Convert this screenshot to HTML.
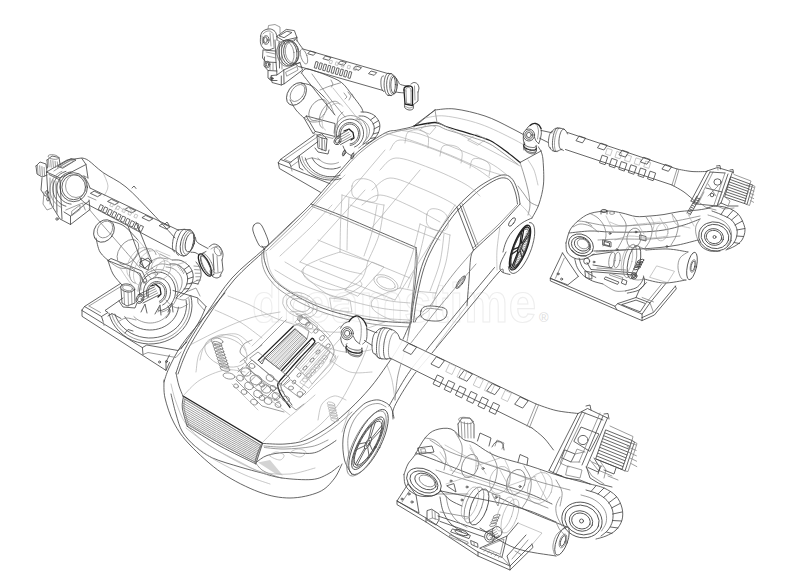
<!DOCTYPE html>
<html><head><meta charset="utf-8"><title>Robots assembling car - wireframe</title>
<style>
html,body{margin:0;padding:0;background:#fff;}
body{width:800px;height:586px;overflow:hidden;font-family:"Liberation Sans",sans-serif;}
svg{display:block}
path,ellipse{fill:none;stroke-linecap:round;stroke-linejoin:round}
.d{stroke:#444;stroke-width:0.82}
.m{stroke:#7c7c7c;stroke-width:0.75}
.l{stroke:#aaa;stroke-width:0.65}
.k{stroke:#222;stroke-width:1.3}
.f{fill:#fff;stroke:none;fill-opacity:0.88}
.g{fill:#d4d4d4;stroke:none}
.w{fill:#fff;stroke:#3a3a3a;stroke-width:0.9}
.wm{fill:#fff;stroke:#777;stroke-width:0.8}
.wl{fill:#fff;stroke:#a8a8a8;stroke-width:0.7}
.wmk{font-family:"Liberation Sans",sans-serif;font-weight:bold;font-size:56px;fill:none;stroke:#eeeeee;stroke-width:1.2;letter-spacing:1px}
.wmr{font-family:"Liberation Sans",sans-serif;font-size:13px;fill:#ddd}
</style></head><body>
<svg width="800" height="586" viewBox="0 0 800 586">
<rect width="800" height="586" fill="#fff" stroke="none"/>
<text class="wmk" x="252" y="321.5" textLength="285" lengthAdjust="spacingAndGlyphs">dreamstime</text>
<text class="wmr" x="539" y="322">®</text>
<path class="d" d="M435.0 110.0 C433.3 111.3 428.5 115.3 425.0 118.0 C421.5 120.7 418.5 124.0 414.0 126.0 C409.5 128.0 402.8 128.8 398.0 130.0 C393.2 131.2 391.3 129.7 385.0 133.0 C378.7 136.3 367.5 143.7 360.0 150.0 C352.5 156.3 348.2 162.0 340.0 171.0 C331.8 180.0 319.7 194.8 311.0 204.0 C302.3 213.2 295.8 218.5 288.0 226.0 C280.2 233.5 273.3 240.3 264.0 249.0 C254.7 257.7 241.5 267.3 232.0 278.0 C222.5 288.7 214.0 302.7 207.0 313.0 C200.0 323.3 194.2 332.8 190.0 340.0 C185.8 347.2 184.3 350.5 182.0 356.0 C179.7 361.5 177.0 370.2 176.0 373.0"/>
<path class="d" d="M264.0 251.5 C259.0 256.2 243.2 269.4 234.0 280.0 C224.8 290.6 216.0 304.7 209.0 315.0 C202.0 325.3 196.2 334.8 192.0 342.0 C187.8 349.2 186.3 352.7 184.0 358.0 C181.7 363.3 179.0 371.3 178.0 374.0"/>
<path class="m" d="M414.0 128.0 C409.3 129.2 394.8 131.0 386.0 135.0 C377.2 139.0 368.5 145.7 361.0 152.0 C353.5 158.3 349.2 164.0 341.0 173.0 C332.8 182.0 324.5 193.0 312.0 206.0 C299.5 219.0 273.7 243.5 266.0 251.0"/>
<path class="d" d="M225.0 293.0 C220.8 297.8 207.3 313.2 200.0 322.0 C192.7 330.8 186.2 338.3 181.0 346.0 C175.8 353.7 171.8 362.0 169.0 368.0 C166.2 374.0 164.8 379.7 164.0 382.0"/>
<path class="d" d="M164.0 380.0 C164.2 383.0 163.3 390.8 165.0 398.0 C166.7 405.2 169.8 415.2 174.0 423.0 C178.2 430.8 182.0 436.7 190.0 445.0 C198.0 453.3 210.5 465.2 222.0 473.0 C233.5 480.8 247.7 487.8 259.0 492.0 C270.3 496.2 280.0 498.0 290.0 498.0 C300.0 498.0 311.7 495.2 319.0 492.0 C326.3 488.8 330.2 483.7 334.0 479.0 C337.8 474.3 340.7 466.5 342.0 464.0"/>
<path class="d" d="M171.0 394.0 C171.8 397.3 174.1 407.7 176.0 414.0 C177.9 420.3 179.2 426.5 182.5 432.0 C185.8 437.5 191.0 442.7 196.0 447.0 C201.0 451.3 205.3 454.7 212.6 458.0 C219.9 461.3 231.8 464.5 240.0 467.0 C248.2 469.5 255.0 471.2 262.0 473.0 C269.0 474.8 273.7 476.9 282.0 478.0 C290.3 479.1 304.3 480.2 312.0 479.5 C319.7 478.8 323.5 476.2 328.0 474.0 C332.5 471.8 337.2 467.3 339.0 466.0"/>
<path class="g" d="M258.0 462.5 L270.0 460.0 L283.0 475.5 L276.0 474.0 Z"/>
<path class="l" d="M171.0 384.0 C171.8 387.0 173.5 395.3 176.0 402.0 C178.5 408.7 181.0 417.2 186.0 424.0 C191.0 430.8 197.0 436.5 206.0 443.0 C215.0 449.5 229.3 457.5 240.0 463.0 C250.7 468.5 265.0 473.8 270.0 476.0"/>
<path class="d" d="M176.0 373.0 C176.5 375.2 177.8 382.2 179.0 386.0 C180.2 389.8 182.3 394.3 183.0 396.0"/>
<path class="k" d="M183.0 396.0 L262.5 443.4"/>
<path class="d" d="M262.5 443.4 C266.2 443.5 277.8 444.6 285.0 444.0 C292.2 443.4 298.5 443.0 306.0 440.0 C313.5 437.0 322.7 431.2 330.0 426.0 C337.3 420.8 343.3 415.3 350.0 409.0 C356.7 402.7 363.8 395.3 370.0 388.0 C376.2 380.7 382.0 372.2 387.0 365.0 C392.0 357.8 396.5 351.2 400.0 345.0 C403.5 338.8 406.2 331.8 408.0 328.0 C409.8 324.2 410.5 323.0 411.0 322.0"/>
<path class="m" d="M264.0 446.0 C267.7 446.2 278.7 447.5 286.0 447.0 C293.3 446.5 300.3 446.0 308.0 443.0 C315.7 440.0 324.7 434.2 332.0 429.0 C339.3 423.8 348.7 414.8 352.0 412.0"/>
<path class="d" d="M264.0 249.0 C264.0 250.5 263.5 254.8 264.0 258.0 C264.5 261.2 265.7 264.8 267.0 268.0 C268.3 271.2 269.7 274.0 272.0 277.0 C274.3 280.0 276.0 282.3 281.0 286.0 C286.0 289.7 294.7 295.2 302.0 299.0 C309.3 302.8 317.0 306.2 325.0 309.0 C333.0 311.8 340.8 314.0 350.0 316.0 C359.2 318.0 369.8 319.8 380.0 321.0 C390.2 322.2 405.8 322.7 411.0 323.0"/>
<path class="m" d="M262.0 252.0 C262.0 253.7 261.5 258.7 262.0 262.0 C262.5 265.3 263.5 268.8 265.0 272.0 C266.5 275.2 268.5 278.0 271.0 281.0 C273.5 284.0 275.0 286.3 280.0 290.0 C285.0 293.7 293.5 299.2 301.0 303.0 C308.5 306.8 316.8 310.2 325.0 313.0 C333.2 315.8 340.8 318.0 350.0 320.0 C359.2 322.0 370.0 323.8 380.0 325.0 C390.0 326.2 405.0 326.7 410.0 327.0"/>
<path class="d" d="M311.0 204.0 C315.8 205.8 328.5 210.3 340.0 215.0 C351.5 219.7 367.3 226.6 380.0 232.0 C392.7 237.4 410.0 244.9 416.0 247.5"/>
<path class="m" d="M312.0 206.5 C316.7 208.3 328.7 212.8 340.0 217.5 C351.3 222.2 367.7 229.2 380.0 234.5 C392.3 239.8 408.3 246.6 414.0 249.0"/>
<path class="d" d="M416.0 247.5 C416.2 249.9 417.2 255.8 417.0 262.0 C416.8 268.2 415.8 277.8 415.0 285.0 C414.2 292.2 412.7 298.8 412.0 305.0 C411.3 311.2 411.2 319.2 411.0 322.0"/>
<path class="m" d="M311.0 204.0 C307.5 207.5 297.2 218.0 290.0 225.0 C282.8 232.0 272.3 241.8 268.0 246.0 C263.7 250.2 264.7 249.3 264.0 250.0"/>
<path class="l" d="M266.0 252.0 C266.7 255.0 267.7 264.7 270.0 270.0 C272.3 275.3 274.7 279.5 280.0 284.0 C285.3 288.5 293.7 293.0 302.0 297.0 C310.3 301.0 318.7 304.7 330.0 308.0 C341.3 311.3 356.8 315.0 370.0 317.0 C383.2 319.0 402.5 319.5 409.0 320.0"/>
<path class="d" d="M411.0 322.0 C411.5 318.3 412.5 308.3 414.0 300.0 C415.5 291.7 417.8 279.8 420.0 272.0 C422.2 264.2 424.3 259.0 427.0 253.0 C429.7 247.0 432.8 241.3 436.0 236.0 C439.2 230.7 442.7 225.7 446.0 221.0 C449.3 216.3 452.3 212.2 456.0 208.0 C459.7 203.8 464.0 199.7 468.0 196.0 C472.0 192.3 475.3 189.2 480.0 186.0 C484.7 182.8 491.7 178.8 496.0 177.0 C500.3 175.2 503.2 174.5 506.0 175.0 C508.8 175.5 511.0 177.2 513.0 180.0 C515.0 182.8 516.8 188.0 518.0 192.0 C519.2 196.0 519.7 202.0 520.0 204.0"/>
<path class="d" d="M413.5 322.0 C414.0 318.3 415.0 308.2 416.5 300.0 C418.0 291.8 420.3 280.7 422.5 273.0 C424.7 265.3 426.8 259.9 429.5 254.0 C432.2 248.1 435.4 242.7 438.5 237.5 C441.6 232.3 444.8 227.6 448.0 223.0 C451.2 218.4 454.3 214.1 458.0 210.0 C461.7 205.9 466.1 202.1 470.0 198.5 C473.9 194.9 477.1 191.7 481.5 188.5 C485.9 185.3 492.6 181.2 496.5 179.5 C500.4 177.8 502.6 177.6 505.0 178.0 C507.4 178.4 509.2 179.5 511.0 182.0 C512.8 184.5 514.4 189.3 515.5 193.0 C516.6 196.7 517.2 202.2 517.5 204.0"/>
<path class="d" d="M520.0 204.0 C518.3 205.8 513.3 211.3 510.0 215.0 C506.7 218.7 503.8 222.2 500.0 226.0 C496.2 229.8 491.3 234.0 487.0 238.0 C482.7 242.0 476.2 248.0 474.0 250.0"/>
<path class="m" d="M517.0 205.0 C513.8 208.3 505.3 217.8 498.0 225.0 C490.7 232.2 477.2 244.2 473.0 248.0"/>
<path class="d" d="M457.0 207.5 L473.5 250.0"/>
<path class="d" d="M460.0 205.0 L476.0 247.0"/>
<path class="m" d="M462.0 203.5 L478.0 245.0"/>
<path class="m" d="M474.0 250.0 C470.8 253.7 460.7 265.0 455.0 272.0 C449.3 279.0 444.2 286.3 440.0 292.0 C435.8 297.7 431.7 303.7 430.0 306.0"/>
<path class="d" d="M473.5 250.0 C473.0 251.3 471.4 253.0 470.7 258.0 C469.9 263.0 469.6 272.1 469.0 280.0 C468.4 287.9 467.3 301.2 467.0 305.5"/>
<path class="l" d="M467.0 305.5 C464.5 308.8 457.2 318.1 452.0 325.0 C446.8 331.9 438.7 343.3 436.0 347.0"/>
<path class="m" d="M416.0 247.5 C415.7 252.9 415.0 267.6 414.0 280.0 C413.0 292.4 411.0 312.8 410.0 322.0 C409.0 331.2 408.3 332.8 408.0 335.0"/>
<path class="d" d="M435.0 110.0 C438.3 109.8 446.7 108.0 455.0 109.0 C463.3 110.0 475.8 112.9 485.0 116.0 C494.2 119.1 502.2 123.5 510.0 127.5 C517.8 131.5 526.8 136.1 532.0 140.0 C537.2 143.9 539.5 149.2 541.0 151.0"/>
<path class="k" d="M414.0 126.0 C417.5 125.4 429.4 122.3 435.0 122.5 C440.6 122.7 441.2 125.0 447.5 127.0 C453.8 129.0 465.4 132.2 472.5 134.5 C479.6 136.8 484.6 137.8 490.0 140.5 C495.4 143.2 499.9 146.8 505.0 150.5 C510.1 154.2 517.8 160.6 520.3 162.6"/>
<path class="m" d="M414.0 129.0 C417.5 128.4 429.4 125.3 435.0 125.5 C440.6 125.7 441.2 128.0 447.5 130.0 C453.8 132.0 465.6 135.2 472.5 137.5 C479.4 139.8 483.9 140.9 489.0 143.5 C494.1 146.1 498.2 149.5 503.0 153.0 C507.8 156.5 515.5 162.6 518.0 164.5"/>
<path class="d" d="M541.0 151.0 L520.0 162.5"/>
<path class="m" d="M435.0 110.0 L437.0 122.5"/>
<path class="d" d="M435.0 110.0 L415.0 125.0"/>
<path class="l" d="M385.0 133.0 C389.2 134.2 399.2 136.3 410.0 140.0 C420.8 143.7 438.3 150.3 450.0 155.0 C461.7 159.7 470.8 164.5 480.0 168.0 C489.2 171.5 500.8 174.7 505.0 176.0"/>
<path class="l" d="M398.0 130.0 C401.7 130.7 411.3 131.3 420.0 134.0 C428.7 136.7 438.3 141.2 450.0 146.0 C461.7 150.8 479.5 157.3 490.0 163.0 C500.5 168.7 509.2 177.2 513.0 180.0"/>
<path class="d" d="M541.0 151.0 C541.3 152.5 542.6 154.5 543.0 160.0 C543.4 165.5 544.2 176.7 543.5 184.0 C542.8 191.3 540.9 198.3 539.0 204.0 C537.1 209.7 533.2 215.7 532.0 218.0"/>
<path class="m" d="M520.0 162.5 C520.7 164.6 522.7 170.4 524.0 175.0 C525.3 179.6 527.0 185.0 528.0 190.0 C529.0 195.0 530.0 200.8 530.0 205.0 C530.0 209.2 528.3 213.3 528.0 215.0"/>
<path class="m" d="M518.0 186.0 C519.0 187.3 522.0 191.3 524.0 194.0 C526.0 196.7 527.7 200.0 530.0 202.0 C532.3 204.0 536.7 205.3 538.0 206.0"/>
<path class="d" d="M532.0 218.0 C530.3 218.8 525.3 220.7 522.0 223.0 C518.7 225.3 514.7 228.8 512.0 232.0 C509.3 235.2 507.5 238.7 506.0 242.0 C504.5 245.3 503.5 250.3 503.0 252.0"/>
<path class="d" d="M529.5 222.6 L531.1 222.8 L532.4 223.6 L533.5 225.1 L534.2 227.2 L534.6 229.9 L534.7 233.1 L534.4 236.6 L533.7 240.5 L532.7 244.5 L531.5 248.7 L529.9 252.8 L528.2 256.8 L526.2 260.6 L524.1 264.0 L522.0 267.0 L519.8 269.5 L517.7 271.4 L515.7 272.7 L513.9 273.4 L512.2 273.3 L510.8 272.6 L509.7 271.2 L508.9 269.2 L508.4 266.7"/>
<ellipse class="k" cx="520.0" cy="247.6" rx="6.8" ry="23.8" transform="rotate(21.0 520.0 247.6)"/>
<ellipse class="k" cx="520.0" cy="247.6" rx="6.3" ry="21.9" transform="rotate(21.0 520.0 247.6)"/>
<ellipse class="d" cx="520.0" cy="247.6" rx="5.7" ry="20.0" transform="rotate(21.0 520.0 247.6)"/>
<ellipse class="k" cx="520.0" cy="247.6" rx="1.5" ry="5.2" transform="rotate(21.0 520.0 247.6)"/>
<ellipse class="d" cx="520.0" cy="247.6" rx="0.8" ry="2.9" transform="rotate(21.0 520.0 247.6)"/>
<path class="k" d="M521.4 248.2 L524.0 252.8"/>
<path class="k" d="M520.1 250.8 L521.9 257.2"/>
<path class="k" d="M518.6 252.4 L513.7 266.4"/>
<path class="k" d="M517.8 252.2 L512.3 265.9"/>
<path class="k" d="M517.8 250.0 L512.0 254.0"/>
<path class="k" d="M518.5 247.3 L513.4 249.3"/>
<path class="k" d="M520.0 244.2 L521.4 232.8"/>
<path class="k" d="M521.3 242.8 L523.6 230.3"/>
<path class="k" d="M522.2 243.1 L528.8 232.0"/>
<path class="k" d="M522.3 245.0 L528.9 235.3"/>
<path class="m" d="M527.1 229.9 L528.4 230.4"/>
<path class="m" d="M526.6 231.7 L528.9 232.6"/>
<path class="m" d="M526.0 233.4 L528.9 234.5"/>
<path class="m" d="M525.5 235.1 L528.8 236.4"/>
<path class="m" d="M524.9 236.8 L528.5 238.2"/>
<path class="m" d="M524.3 238.6 L528.2 240.1"/>
<path class="m" d="M523.7 240.3 L527.8 241.9"/>
<path class="m" d="M523.0 242.0 L527.3 243.6"/>
<path class="m" d="M522.4 243.7 L526.8 245.4"/>
<path class="m" d="M521.8 245.4 L526.3 247.1"/>
<path class="m" d="M521.1 247.1 L525.7 248.8"/>
<path class="m" d="M520.5 248.8 L525.0 250.5"/>
<path class="m" d="M519.8 250.4 L524.3 252.2"/>
<path class="m" d="M519.2 252.1 L523.6 253.8"/>
<path class="m" d="M518.5 253.8 L522.8 255.5"/>
<path class="m" d="M517.8 255.5 L521.9 257.1"/>
<path class="m" d="M517.1 257.2 L521.0 258.7"/>
<path class="m" d="M516.4 258.9 L520.1 260.3"/>
<path class="m" d="M515.7 260.5 L519.0 261.8"/>
<path class="m" d="M515.0 262.2 L517.9 263.3"/>
<path class="m" d="M514.2 263.8 L516.5 264.7"/>
<path class="m" d="M513.4 265.5 L514.8 266.0"/>
<path class="d" d="M506.0 252.0 C505.2 253.7 502.0 259.2 501.0 262.0 C500.0 264.8 499.7 267.2 500.0 269.0 C500.3 270.8 501.3 271.6 503.0 272.5 C504.7 273.4 508.8 274.2 510.0 274.5"/>
<path class="d" d="M503.0 272.5 C502.3 272.4 505.3 265.2 499.0 272.0 C492.7 278.8 476.2 299.5 465.0 313.0 C453.8 326.5 440.8 342.2 432.0 353.0 C423.2 363.8 418.2 368.6 412.0 377.5 C405.8 386.4 397.7 399.6 394.5 406.5 C391.3 413.4 393.2 416.9 393.0 419.0"/>
<path class="d" d="M494.5 267.5 C488.8 274.4 471.3 295.2 460.0 309.0 C448.7 322.8 435.2 339.1 426.5 350.0 C417.8 360.9 413.8 365.2 407.5 374.5 C401.2 383.8 392.1 400.8 389.0 406.0"/>
<path class="m" d="M476.0 264.0 C470.0 271.0 451.2 292.4 440.0 306.0 C428.8 319.6 414.2 338.9 409.0 345.5"/>
<path class="l" d="M500.0 226.0 C499.5 230.0 497.5 242.7 497.0 250.0 C496.5 257.3 497.0 266.7 497.0 270.0"/>
<path class="m" d="M411.0 322.0 C410.0 326.7 407.2 341.2 405.0 350.0 C402.8 358.8 399.7 366.7 398.0 375.0 C396.3 383.3 395.5 395.8 395.0 400.0"/>
<path class="d" d="M394.0 418.0 C393.7 416.7 392.9 412.2 392.0 410.0 C391.1 407.8 390.7 406.2 388.5 404.5 C386.3 402.8 382.2 400.5 379.0 400.0 C375.8 399.5 372.0 400.4 369.0 401.5 C366.0 402.6 364.5 403.2 361.0 406.5 C357.5 409.8 351.0 415.6 348.0 421.0 C345.0 426.4 343.6 432.5 343.0 439.0 C342.4 445.5 343.0 454.1 344.5 460.0 C346.0 465.9 350.8 472.1 352.0 474.5"/>
<path class="m" d="M386.0 407.0 C384.7 406.4 381.3 403.5 378.0 403.5 C374.7 403.5 370.0 404.2 366.0 407.0 C362.0 409.8 357.0 414.8 354.0 420.0 C351.0 425.2 348.8 431.7 348.0 438.0 C347.2 444.3 348.8 454.7 349.0 458.0"/>
<ellipse class="d" cx="368.5" cy="442.0" rx="12.5" ry="36.0" transform="rotate(27.0 368.5 442.0)"/>
<ellipse class="d" cx="368.0" cy="443.2" rx="9.0" ry="29.7" transform="rotate(29.0 368.0 443.2)"/>
<ellipse class="d" cx="368.0" cy="443.2" rx="8.3" ry="27.3" transform="rotate(29.0 368.0 443.2)"/>
<ellipse class="d" cx="368.0" cy="443.2" rx="7.6" ry="24.9" transform="rotate(29.0 368.0 443.2)"/>
<ellipse class="d" cx="368.0" cy="443.2" rx="2.0" ry="6.5" transform="rotate(29.0 368.0 443.2)"/>
<ellipse class="d" cx="368.0" cy="443.2" rx="1.1" ry="3.6" transform="rotate(29.0 368.0 443.2)"/>
<path class="d" d="M369.7 444.2 L372.5 450.5"/>
<path class="d" d="M367.7 447.2 L369.0 455.6"/>
<path class="d" d="M365.5 448.9 L357.0 465.3"/>
<path class="d" d="M364.5 448.4 L355.2 464.5"/>
<path class="d" d="M364.8 445.7 L356.7 449.6"/>
<path class="d" d="M366.1 442.5 L359.1 443.9"/>
<path class="d" d="M368.5 439.0 L372.0 425.0"/>
<path class="d" d="M370.4 437.5 L375.3 422.4"/>
<path class="d" d="M371.6 438.1 L381.8 425.6"/>
<path class="d" d="M371.3 440.4 L381.4 429.6"/>
<ellipse class="m" cx="366.5" cy="443.5" rx="12.5" ry="36.0" transform="rotate(27.0 366.5 443.5)"/>
<path class="l" d="M387.0 365.0 C387.8 367.5 390.7 374.2 392.0 380.0 C393.3 385.8 394.5 396.7 395.0 400.0"/>
<path class="l" d="M350.0 409.0 C349.3 410.8 347.3 416.2 346.0 420.0 C344.7 423.8 342.7 430.0 342.0 432.0"/>
<path class="d" d="M262.5 443.4 C261.8 444.8 259.2 448.9 258.0 452.0 C256.8 455.1 255.5 460.3 255.0 462.0"/>
<path class="d" d="M256.5 462.2 C258.2 461.1 262.2 457.1 267.0 455.5 C271.8 453.9 277.5 452.9 285.0 452.5 C292.5 452.1 305.2 454.1 312.0 453.2 C318.8 452.3 322.0 449.1 326.0 447.0 C330.0 444.9 334.3 441.6 336.0 440.5"/>
<path class="m" d="M264.5 447.5 C267.9 447.8 277.1 449.2 285.0 449.0 C292.9 448.8 304.8 448.0 312.0 446.5 C319.2 445.0 325.3 441.1 328.0 440.0"/>
<path class="l" d="M270.0 456.0 C269.3 454.7 273.7 452.2 276.0 452.0 C278.3 451.8 283.3 453.7 284.0 455.0 C284.7 456.3 282.3 459.8 280.0 460.0 C277.7 460.2 270.7 457.3 270.0 456.0 Z"/>
<path class="l" d="M290.0 453.0 C289.7 451.7 295.3 449.2 298.0 449.0 C300.7 448.8 305.7 450.7 306.0 452.0 C306.3 453.3 302.7 456.8 300.0 457.0 C297.3 457.2 290.3 454.3 290.0 453.0 Z"/>
<path class="m" d="M255.0 462.0 C256.2 463.3 258.7 467.7 262.0 470.0 C265.3 472.3 271.7 474.7 275.0 476.0 C278.3 477.3 280.8 477.7 282.0 478.0"/>
<path class="d" d="M183.5 396.3 C183.3 398.2 181.7 403.0 182.3 408.0 C182.9 413.0 186.4 423.2 187.2 426.3"/>
<path class="d" d="M262.3 444.2 L255.8 463.9"/>
<path class="d" d="M187.2 426.3 C192.7 429.6 208.6 439.7 220.0 446.0 C231.4 452.3 249.8 460.9 255.8 463.9"/>
<path class="m" d="M185.0 399.0 C184.8 400.5 183.4 403.8 184.0 408.0 C184.6 412.2 187.8 421.8 188.5 424.5"/>
<path class="m" d="M185.0 399.0 L260.5 445.2"/>
<path class="m" d="M260.5 445.2 L254.8 462.0"/>
<path class="m" d="M188.5 424.5 C193.9 427.8 209.9 437.8 221.0 444.0 C232.1 450.2 249.2 459.0 254.8 462.0"/>
<path class="m" d="M183.4 398.6 C189.9 402.5 209.5 414.4 222.6 422.3 C235.7 430.1 255.3 441.8 261.8 445.7"/>
<path class="m" d="M183.3 400.9 C189.8 404.8 209.3 416.5 222.3 424.3 C235.3 432.0 254.8 443.4 261.3 447.2"/>
<path class="m" d="M183.3 403.2 C189.8 407.1 209.1 418.7 222.0 426.3 C235.0 433.8 254.3 445.0 260.8 448.7"/>
<path class="m" d="M183.3 405.5 C189.7 409.3 209.0 420.8 221.8 428.3 C234.6 435.7 253.9 446.6 260.3 450.3"/>
<path class="m" d="M183.4 407.8 C189.8 411.6 208.9 422.9 221.6 430.3 C234.3 437.6 253.4 448.2 259.8 451.8"/>
<path class="m" d="M183.6 410.1 C189.9 413.8 208.8 425.1 221.5 432.3 C234.1 439.5 253.0 449.8 259.3 453.3"/>
<path class="m" d="M183.9 412.5 C190.1 416.1 208.9 427.2 221.4 434.3 C233.8 441.3 252.6 451.4 258.8 454.8"/>
<path class="m" d="M184.3 414.8 C190.4 418.3 209.0 429.4 221.3 436.3 C233.6 443.2 252.1 453.0 258.3 456.3"/>
<path class="m" d="M184.7 417.1 C190.8 420.6 209.1 431.5 221.3 438.3 C233.4 445.1 251.7 454.6 257.8 457.8"/>
<path class="m" d="M185.3 419.4 C191.3 422.9 209.3 433.6 221.3 440.3 C233.3 447.0 251.3 456.2 257.3 459.4"/>
<path class="m" d="M185.9 421.7 C191.8 425.1 209.5 435.8 221.3 442.3 C233.2 448.8 250.9 457.8 256.8 460.9"/>
<path class="m" d="M186.5 424.0 C192.3 427.4 209.8 437.9 221.4 444.3 C233.0 450.7 250.5 459.4 256.3 462.4"/>
<path class="l" d="M186.0 428.0 C190.0 431.0 201.0 440.3 210.0 446.0 C219.0 451.7 231.3 457.7 240.0 462.0 C248.7 466.3 253.7 470.0 262.0 472.0 C270.3 474.0 281.2 474.7 290.0 474.0 C298.8 473.3 310.8 469.0 315.0 468.0"/>
<path class="l" d="M192.0 444.0 C195.8 446.7 206.2 454.8 215.0 460.0 C223.8 465.2 235.8 471.0 245.0 475.0 C254.2 479.0 265.8 482.5 270.0 484.0"/>
<path class="d" d="M254.0 225.0 C254.8 223.7 256.7 222.8 258.0 223.0 C259.3 223.2 260.3 223.2 262.0 226.0 C263.7 228.8 267.0 236.8 268.0 240.0 C269.0 243.2 268.7 243.8 268.0 245.0 C267.3 246.2 265.5 247.0 264.0 247.0 C262.5 247.0 260.8 247.7 259.0 245.0 C257.2 242.3 253.8 234.3 253.0 231.0 C252.2 227.7 253.2 226.3 254.0 225.0 Z"/>
<path class="d" d="M262.0 246.0 L265.0 250.0"/>
<path class="d" d="M421.0 311.0 C421.5 309.5 422.2 307.8 424.0 307.0 C425.8 306.2 428.7 305.8 432.0 306.0 C435.3 306.2 441.5 307.0 444.0 308.0 C446.5 309.0 446.8 310.3 447.0 312.0 C447.2 313.7 446.5 316.5 445.0 318.0 C443.5 319.5 441.2 320.7 438.0 321.0 C434.8 321.3 428.8 320.8 426.0 320.0 C423.2 319.2 421.8 317.5 421.0 316.0 C420.2 314.5 420.5 312.5 421.0 311.0 Z"/>
<path class="m" d="M423.0 312.0 C423.5 311.5 424.5 309.6 426.0 309.0 C427.5 308.4 429.3 308.3 432.0 308.5 C434.7 308.7 440.3 309.8 442.0 310.0"/>
<path class="d" d="M421.0 314.0 C420.3 314.7 418.0 316.7 417.0 318.0 C416.0 319.3 415.3 321.3 415.0 322.0"/>
<ellipse class="d" cx="460.7" cy="282.2" rx="2.2" ry="7.5" transform="rotate(35.0 460.7 282.2)"/>
<ellipse class="m" cx="460.7" cy="282.2" rx="1.2" ry="6.0" transform="rotate(35.0 460.7 282.2)"/>
<ellipse class="d" cx="512.0" cy="222.0" rx="2.0" ry="5.0" transform="rotate(35.0 512.0 222.0)"/>
<path class="l" d="M352.0 186.0 C352.5 183.3 353.7 181.2 356.0 180.0 C358.3 178.8 362.8 178.3 366.0 179.0 C369.2 179.7 373.0 181.3 375.0 184.0 C377.0 186.7 378.2 192.0 378.0 195.0 C377.8 198.0 376.7 201.2 374.0 202.0 C371.3 202.8 365.5 201.0 362.0 200.0 C358.5 199.0 354.7 198.3 353.0 196.0 C351.3 193.7 351.5 188.7 352.0 186.0 Z"/>
<path class="l" d="M342.0 195.0 C341.8 200.0 340.8 215.5 340.5 225.0 C340.2 234.5 340.1 247.5 340.0 252.0"/>
<path class="l" d="M342.0 195.0 C343.7 195.5 346.3 196.6 352.0 198.0 C357.7 199.4 370.7 202.3 376.0 203.5 C381.3 204.7 382.7 204.8 384.0 205.0"/>
<path class="l" d="M384.0 205.0 C383.2 210.0 381.7 225.7 379.0 235.0 C376.3 244.3 369.8 256.7 368.0 261.0"/>
<path class="l" d="M349.0 198.0 C348.8 202.5 347.8 216.3 347.5 225.0 C347.2 233.7 347.1 245.8 347.0 250.0"/>
<path class="l" d="M377.0 205.0 C376.2 209.5 374.2 223.5 372.0 232.0 C369.8 240.5 365.3 252.0 364.0 256.0"/>
<path class="l" d="M340.0 252.0 C336.7 253.2 326.0 256.3 320.0 259.0 C314.0 261.7 306.0 264.5 304.0 268.0 C302.0 271.5 302.8 276.3 308.0 280.0 C313.2 283.7 326.3 289.8 335.0 290.0 C343.7 290.2 354.5 285.8 360.0 281.0 C365.5 276.2 366.7 264.3 368.0 261.0"/>
<path class="l" d="M304.0 268.0 C304.0 269.2 299.0 270.2 304.0 275.0 C309.0 279.8 324.7 295.0 334.0 297.0 C343.3 299.0 355.7 289.7 360.0 287.0 C364.3 284.3 360.0 282.0 360.0 281.0"/>
<path class="l" d="M340.0 252.0 C342.0 252.7 347.3 254.5 352.0 256.0 C356.7 257.5 365.3 260.2 368.0 261.0"/>
<path class="l" d="M320.0 261.0 C324.2 262.5 338.0 267.8 345.0 270.0 C352.0 272.2 359.2 273.3 362.0 274.0"/>
<path class="l" d="M427.0 214.0 C427.7 211.5 428.8 209.7 431.0 209.0 C433.2 208.3 437.3 208.8 440.0 210.0 C442.7 211.2 445.7 213.3 447.0 216.0 C448.3 218.7 448.7 223.5 448.0 226.0 C447.3 228.5 445.5 230.5 443.0 231.0 C440.5 231.5 435.7 230.2 433.0 229.0 C430.3 227.8 428.0 226.5 427.0 224.0 C426.0 221.5 426.3 216.5 427.0 214.0 Z"/>
<path class="l" d="M420.0 224.0 C418.7 229.2 415.3 244.3 412.0 255.0 C408.7 265.7 402.0 282.5 400.0 288.0"/>
<path class="l" d="M420.0 224.0 C422.0 224.8 427.0 227.2 432.0 229.0 C437.0 230.8 447.0 234.0 450.0 235.0"/>
<path class="l" d="M450.0 235.0 C449.3 239.5 448.3 252.3 446.0 262.0 C443.7 271.7 437.7 287.8 436.0 293.0"/>
<path class="l" d="M426.0 227.0 C424.8 231.8 422.0 245.8 419.0 256.0 C416.0 266.2 409.8 282.7 408.0 288.0"/>
<path class="l" d="M444.0 234.0 C443.3 238.7 442.3 252.5 440.0 262.0 C437.7 271.5 431.7 286.2 430.0 291.0"/>
<path class="l" d="M400.0 288.0 C397.3 289.0 388.7 291.8 384.0 294.0 C379.3 296.2 373.3 298.0 372.0 301.0 C370.7 304.0 371.0 308.5 376.0 312.0 C381.0 315.5 393.3 322.2 402.0 322.0 C410.7 321.8 422.3 315.8 428.0 311.0 C433.7 306.2 434.7 296.0 436.0 293.0"/>
<path class="l" d="M400.0 288.0 C402.7 288.5 410.0 290.2 416.0 291.0 C422.0 291.8 432.7 292.7 436.0 293.0"/>
<path class="l" d="M390.0 150.0 C391.7 148.3 393.3 140.3 400.0 140.0 C406.7 139.7 418.3 143.8 430.0 148.0 C441.7 152.2 460.0 160.0 470.0 165.0 C480.0 170.0 486.7 175.8 490.0 178.0"/>
<path class="l" d="M380.0 170.0 C382.7 168.0 387.7 158.3 396.0 158.0 C404.3 157.7 418.5 163.7 430.0 168.0 C441.5 172.3 456.7 179.3 465.0 184.0 C473.3 188.7 477.5 194.0 480.0 196.0"/>
<path class="l" d="M405.0 143.0 C405.5 141.2 405.5 134.2 408.0 132.0 C410.5 129.8 416.7 129.3 420.0 130.0 C423.3 130.7 426.7 133.0 428.0 136.0 C429.3 139.0 428.0 146.0 428.0 148.0"/>
<path class="l" d="M440.0 156.0 C440.5 154.3 440.5 147.7 443.0 146.0 C445.5 144.3 451.8 145.0 455.0 146.0 C458.2 147.0 461.0 149.2 462.0 152.0 C463.0 154.8 461.2 161.2 461.0 163.0"/>
<path class="l" d="M470.0 168.0 C470.5 166.5 470.7 160.3 473.0 159.0 C475.3 157.7 481.2 158.8 484.0 160.0 C486.8 161.2 489.2 163.3 490.0 166.0 C490.8 168.7 489.2 174.3 489.0 176.0"/>
<path class="l" d="M372.0 190.0 C375.0 188.0 382.0 178.3 390.0 178.0 C398.0 177.7 410.0 184.0 420.0 188.0 C430.0 192.0 443.0 198.0 450.0 202.0 C457.0 206.0 460.0 210.3 462.0 212.0"/>
<path class="l" d="M362.0 205.0 C365.0 203.3 372.0 194.8 380.0 195.0 C388.0 195.2 400.0 201.5 410.0 206.0 C420.0 210.5 435.0 219.3 440.0 222.0"/>
<path class="l" d="M300.0 262.0 L395.0 300.0"/>
<path class="l" d="M318.0 240.0 L410.0 278.0"/>
<path class="l" d="M350.0 205.0 L440.0 240.0"/>
<path class="l" d="M365.0 190.0 L300.0 262.0"/>
<path class="l" d="M455.0 205.0 L395.0 300.0"/>
<path class="l" d="M385.0 150.0 L330.0 215.0"/>
<path class="l" d="M420.0 170.0 L370.0 230.0"/>
<path class="l" d="M275.0 270.0 C279.2 272.3 289.2 279.3 300.0 284.0 C310.8 288.7 326.7 294.0 340.0 298.0 C353.3 302.0 368.7 305.8 380.0 308.0 C391.3 310.2 403.3 310.5 408.0 311.0"/>
<path class="l" d="M285.0 262.0 C289.2 264.3 300.0 271.5 310.0 276.0 C320.0 280.5 332.5 285.0 345.0 289.0 C357.5 293.0 374.2 297.7 385.0 300.0 C395.8 302.3 405.8 302.5 410.0 303.0"/>
<ellipse class="l" cx="386.0" cy="283.0" rx="13.0" ry="7.0" transform="rotate(25.0 386.0 283.0)"/>
<ellipse class="l" cx="386.0" cy="283.0" rx="10.0" ry="5.0" transform="rotate(25.0 386.0 283.0)"/>
<path class="l" d="M345.0 290.0 L372.0 262.0 L384.0 267.0 L358.0 296.0 Z"/>
<path class="l" d="M330.0 298.0 L350.0 300.0 L352.0 312.0 L332.0 310.0 Z"/>
<path class="l" d="M270.0 250.0 C275.0 245.3 291.7 230.3 300.0 222.0 C308.3 213.7 312.5 207.8 320.0 200.0 C327.5 192.2 340.8 179.2 345.0 175.0"/>
<path class="l" d="M280.0 256.0 C285.0 251.3 301.3 236.5 310.0 228.0 C318.7 219.5 328.3 208.8 332.0 205.0"/>
<path class="l" d="M437.0 122.0 L520.0 166.0"/>
<path class="l" d="M425.0 118.0 C428.3 117.7 435.8 115.0 445.0 116.0 C454.2 117.0 468.3 120.0 480.0 124.0 C491.7 128.0 505.8 135.3 515.0 140.0 C524.2 144.7 531.7 150.0 535.0 152.0"/>
<path class="l" d="M528.0 160.0 C529.0 161.7 532.3 165.8 534.0 170.0 C535.7 174.2 537.3 182.5 538.0 185.0"/>
<path class="l" d="M520.0 204.0 C521.0 205.0 524.0 207.7 526.0 210.0 C528.0 212.3 531.0 216.7 532.0 218.0"/>
<path class="l" d="M468.0 140.0 L476.0 134.0 L486.0 139.0 L478.0 145.0 Z"/>
<path class="l" d="M420.0 130.0 L427.0 124.0 L436.0 127.0 L430.0 134.0 Z"/>
<path class="d" d="M265.0 357.8 L295.0 328.8 L307.0 339.0 L279.6 368.9 Z"/>
<path class="m" d="M266.2 358.7 L296.0 329.7"/>
<path class="l" d="M267.4 359.6 L297.0 330.5"/>
<path class="m" d="M268.6 360.6 L298.0 331.4"/>
<path class="l" d="M269.9 361.5 L299.0 332.2"/>
<path class="m" d="M271.1 362.4 L300.0 333.1"/>
<path class="l" d="M272.3 363.4 L301.0 333.9"/>
<path class="m" d="M273.5 364.3 L302.0 334.8"/>
<path class="l" d="M274.7 365.2 L303.0 335.6"/>
<path class="m" d="M276.0 366.1 L304.0 336.4"/>
<path class="l" d="M277.2 367.0 L305.0 337.3"/>
<path class="m" d="M278.4 368.0 L306.0 338.1"/>
<path class="k" d="M258.3 360.4 L293.3 326.2"/>
<path class="d" d="M260.5 362.0 L295.0 328.8"/>
<path class="d" d="M258.3 360.4 L262.0 364.0 L265.0 357.8"/>
<path class="m" d="M293.3 326.2 L299.0 323.5 L309.0 331.0 L307.0 339.0"/>
<path class="k" d="M281.5 370.5 C283.8 368.1 290.2 361.1 295.0 356.0 C299.8 350.9 307.5 342.9 310.4 340.0 C313.3 337.1 311.9 338.5 312.5 338.5 C313.1 338.5 313.8 339.2 314.0 340.0 C314.2 340.8 316.1 340.3 313.8 343.3 C311.5 346.3 304.8 352.7 300.0 358.0 C295.2 363.3 288.7 370.8 285.0 375.0 C281.3 379.2 279.1 381.2 278.0 383.5 C276.9 385.8 277.9 387.0 278.5 389.0 C279.1 391.0 279.6 392.4 281.5 395.5 C283.4 398.6 288.6 405.5 290.0 407.5"/>
<path class="d" d="M283.5 372.0 C285.7 369.6 292.2 362.2 296.5 357.5 C300.8 352.8 307.3 345.8 309.5 343.5"/>
<path class="d" d="M316.0 343.0 C313.7 345.8 306.8 354.4 302.0 360.0 C297.2 365.6 291.0 372.4 287.5 376.5 C284.0 380.6 281.7 381.8 281.0 384.5 C280.3 387.2 281.7 389.6 283.5 393.0 C285.3 396.4 290.6 403.0 292.0 405.0"/>
<path class="m" d="M296.0 366.0 L318.0 342.0 L330.0 352.0 L308.0 378.0 Z"/>
<path class="l" d="M297.7 367.7 L319.7 343.4"/>
<path class="l" d="M299.4 369.4 L321.4 344.9"/>
<path class="l" d="M301.1 371.1 L323.1 346.3"/>
<path class="l" d="M302.9 372.9 L324.9 347.7"/>
<path class="l" d="M304.6 374.6 L326.6 349.1"/>
<path class="l" d="M306.3 376.3 L328.3 350.6"/>
<path class="l" d="M308.0 378.0 L312.0 384.0 L336.0 358.0 L330.0 352.0"/>
<path class="m" d="M250.0 358.0 L258.0 352.0 L290.0 378.0 L283.0 385.0 Z"/>
<path class="m" d="M246.0 366.0 L252.0 360.0 L280.0 384.0 L274.0 391.0 Z"/>
<path class="l" d="M295.0 322.0 L303.0 314.0 L318.0 326.0 L312.0 333.0 Z"/>
<ellipse class="m" cx="304.0" cy="321.0" rx="5.0" ry="3.5" transform="rotate(20.0 304.0 321.0)"/>
<ellipse class="l" cx="309.0" cy="326.0" rx="4.0" ry="3.0" transform="rotate(20.0 309.0 326.0)"/>
<ellipse class="m" cx="246.0" cy="372.0" rx="5.0" ry="4.0" transform="rotate(20.0 246.0 372.0)"/>
<ellipse class="m" cx="256.0" cy="380.0" rx="6.0" ry="4.8" transform="rotate(20.0 256.0 380.0)"/>
<ellipse class="m" cx="266.0" cy="389.0" rx="5.0" ry="4.0" transform="rotate(20.0 266.0 389.0)"/>
<ellipse class="m" cx="276.0" cy="396.0" rx="4.0" ry="3.2" transform="rotate(20.0 276.0 396.0)"/>
<ellipse class="m" cx="252.0" cy="366.0" rx="3.0" ry="2.4" transform="rotate(20.0 252.0 366.0)"/>
<ellipse class="m" cx="270.0" cy="378.0" rx="4.0" ry="3.2" transform="rotate(20.0 270.0 378.0)"/>
<ellipse class="m" cx="262.0" cy="398.0" rx="3.0" ry="2.4" transform="rotate(20.0 262.0 398.0)"/>
<ellipse class="m" cx="240.0" cy="378.0" rx="3.5" ry="2.8" transform="rotate(20.0 240.0 378.0)"/>
<ellipse class="m" cx="249.0" cy="386.0" rx="4.5" ry="3.6" transform="rotate(20.0 249.0 386.0)"/>
<ellipse class="m" cx="258.0" cy="394.0" rx="4.5" ry="3.6" transform="rotate(20.0 258.0 394.0)"/>
<ellipse class="m" cx="268.0" cy="401.0" rx="4.0" ry="3.2" transform="rotate(20.0 268.0 401.0)"/>
<ellipse class="m" cx="244.0" cy="392.0" rx="3.0" ry="2.4" transform="rotate(20.0 244.0 392.0)"/>
<ellipse class="m" cx="254.0" cy="402.0" rx="3.5" ry="2.8" transform="rotate(20.0 254.0 402.0)"/>
<ellipse class="m" cx="278.0" cy="405.0" rx="3.0" ry="2.4" transform="rotate(20.0 278.0 405.0)"/>
<ellipse class="m" cx="236.0" cy="386.0" rx="2.5" ry="2.0" transform="rotate(20.0 236.0 386.0)"/>
<ellipse class="m" cx="286.0" cy="399.0" rx="3.5" ry="2.8" transform="rotate(20.0 286.0 399.0)"/>
<ellipse class="m" cx="262.0" cy="385.0" rx="2.5" ry="2.0" transform="rotate(20.0 262.0 385.0)"/>
<ellipse class="m" cx="273.0" cy="388.0" rx="3.0" ry="2.4" transform="rotate(20.0 273.0 388.0)"/>
<path class="m" d="M238.0 372.0 L243.0 367.0"/>
<path class="m" d="M244.0 376.8 L249.0 371.8"/>
<path class="m" d="M250.0 381.6 L255.0 376.6"/>
<path class="m" d="M256.0 386.4 L261.0 381.4"/>
<path class="m" d="M262.0 391.2 L267.0 386.2"/>
<path class="m" d="M268.0 396.0 L273.0 391.0"/>
<path class="m" d="M274.0 400.8 L279.0 395.8"/>
<path class="m" d="M236.0 380.0 L262.0 406.0 L284.0 412.0"/>
<path class="l" d="M232.0 384.0 L258.0 410.0"/>
<path class="m" d="M240.0 362.0 L262.0 345.0"/>
<path class="m" d="M238.0 368.0 L246.0 380.0 L262.0 394.0 L280.0 402.0"/>
<path class="m" d="M244.0 360.0 L252.0 372.0 L268.0 384.0 L284.0 392.0"/>
<path class="l" d="M300.0 390.0 C301.3 388.3 304.3 384.0 308.0 380.0 C311.7 376.0 318.3 370.7 322.0 366.0 C325.7 361.3 328.7 354.3 330.0 352.0"/>
<path class="l" d="M305.0 395.0 C306.8 393.2 311.8 388.2 316.0 384.0 C320.2 379.8 326.3 374.7 330.0 370.0 C333.7 365.3 336.7 358.3 338.0 356.0"/>
<path class="l" d="M300.0 382.0 L328.0 350.0 L336.0 356.0 L309.0 388.0 Z"/>
<ellipse class="l" cx="305.0" cy="380.0" rx="2.5" ry="2.0" transform="rotate(0.0 305.0 380.0)"/>
<ellipse class="l" cx="309.0" cy="375.5" rx="2.5" ry="2.0" transform="rotate(0.0 309.0 375.5)"/>
<ellipse class="l" cx="313.0" cy="371.0" rx="2.5" ry="2.0" transform="rotate(0.0 313.0 371.0)"/>
<ellipse class="l" cx="317.0" cy="366.5" rx="2.5" ry="2.0" transform="rotate(0.0 317.0 366.5)"/>
<ellipse class="l" cx="321.0" cy="362.0" rx="2.5" ry="2.0" transform="rotate(0.0 321.0 362.0)"/>
<ellipse class="l" cx="325.0" cy="357.5" rx="2.5" ry="2.0" transform="rotate(0.0 325.0 357.5)"/>
<ellipse class="m" cx="300.0" cy="318.0" rx="3.0" ry="2.0" transform="rotate(-45.0 300.0 318.0)"/>
<ellipse class="m" cx="308.0" cy="324.0" rx="2.5" ry="1.8" transform="rotate(-45.0 308.0 324.0)"/>
<ellipse class="m" cx="316.0" cy="331.0" rx="2.5" ry="1.8" transform="rotate(-45.0 316.0 331.0)"/>
<ellipse class="m" cx="322.0" cy="338.0" rx="3.0" ry="2.0" transform="rotate(-45.0 322.0 338.0)"/>
<ellipse class="m" cx="328.0" cy="346.0" rx="2.5" ry="1.8" transform="rotate(-45.0 328.0 346.0)"/>
<ellipse class="m" cx="318.0" cy="352.0" rx="2.5" ry="1.5" transform="rotate(-45.0 318.0 352.0)"/>
<ellipse class="m" cx="312.0" cy="360.0" rx="2.5" ry="1.5" transform="rotate(-45.0 312.0 360.0)"/>
<ellipse class="m" cx="305.0" cy="368.0" rx="2.5" ry="1.5" transform="rotate(-45.0 305.0 368.0)"/>
<ellipse class="m" cx="299.0" cy="375.0" rx="2.5" ry="1.5" transform="rotate(-45.0 299.0 375.0)"/>
<ellipse class="m" cx="294.0" cy="382.0" rx="2.0" ry="1.5" transform="rotate(-45.0 294.0 382.0)"/>
<path class="m" d="M296.0 314.0 C298.3 315.3 305.0 318.3 310.0 322.0 C315.0 325.7 322.0 331.3 326.0 336.0 C330.0 340.7 333.3 345.7 334.0 350.0 C334.7 354.3 330.7 360.0 330.0 362.0"/>
<path class="l" d="M290.0 312.0 C292.0 312.0 297.7 310.3 302.0 312.0 C306.3 313.7 311.3 318.0 316.0 322.0 C320.7 326.0 327.7 333.7 330.0 336.0"/>
<path class="l" d="M322.0 344.0 L340.0 326.0 L347.0 331.0 L330.0 350.0 Z"/>
<path class="m" d="M256.0 350.0 L286.0 320.0"/>
<path class="l" d="M252.0 346.0 L282.0 317.0"/>
<path class="m" d="M246.0 358.0 C245.0 357.0 240.3 354.3 240.0 352.0 C239.7 349.7 242.0 346.0 244.0 344.0 C246.0 342.0 250.7 340.7 252.0 340.0"/>
<path class="m" d="M274.0 392.0 L296.0 410.0 L304.0 404.0"/>
<path class="l" d="M268.0 398.0 L290.0 415.0"/>
<path class="m" d="M284.0 386.0 L300.0 398.0 L306.0 392.0 L291.0 380.0 Z"/>
<ellipse class="m" cx="300.0" cy="394.0" rx="3.0" ry="2.5" transform="rotate(0.0 300.0 394.0)"/>
<ellipse class="m" cx="291.0" cy="388.0" rx="2.5" ry="2.0" transform="rotate(0.0 291.0 388.0)"/>
<ellipse class="m" cx="217.0" cy="344.0" rx="5.0" ry="2.2" transform="rotate(15.0 217.0 344.0)"/>
<ellipse class="m" cx="218.0" cy="347.1" rx="5.0" ry="2.2" transform="rotate(15.0 218.0 347.1)"/>
<ellipse class="m" cx="219.0" cy="350.2" rx="5.0" ry="2.2" transform="rotate(15.0 219.0 350.2)"/>
<ellipse class="m" cx="220.0" cy="353.3" rx="5.0" ry="2.2" transform="rotate(15.0 220.0 353.3)"/>
<ellipse class="m" cx="221.0" cy="356.4" rx="5.0" ry="2.2" transform="rotate(15.0 221.0 356.4)"/>
<ellipse class="m" cx="222.0" cy="359.5" rx="5.0" ry="2.2" transform="rotate(15.0 222.0 359.5)"/>
<ellipse class="m" cx="223.0" cy="362.6" rx="5.0" ry="2.2" transform="rotate(15.0 223.0 362.6)"/>
<ellipse class="m" cx="224.0" cy="365.7" rx="5.0" ry="2.2" transform="rotate(15.0 224.0 365.7)"/>
<ellipse class="m" cx="225.0" cy="368.8" rx="5.0" ry="2.2" transform="rotate(15.0 225.0 368.8)"/>
<ellipse class="m" cx="217.0" cy="341.0" rx="6.0" ry="3.0" transform="rotate(10.0 217.0 341.0)"/>
<ellipse class="m" cx="229.0" cy="376.0" rx="6.0" ry="3.0" transform="rotate(10.0 229.0 376.0)"/>
<path class="l" d="M200.0 360.0 C200.8 357.5 201.7 349.2 205.0 345.0 C208.3 340.8 214.5 336.2 220.0 335.0 C225.5 333.8 233.7 335.5 238.0 338.0 C242.3 340.5 244.7 348.0 246.0 350.0"/>
<path class="l" d="M196.0 372.0 C196.7 368.7 196.7 357.7 200.0 352.0 C203.3 346.3 210.0 341.0 216.0 338.0 C222.0 335.0 230.3 333.0 236.0 334.0 C241.7 335.0 247.7 342.3 250.0 344.0"/>
<ellipse class="l" cx="226.0" cy="352.0" rx="22.0" ry="14.0" transform="rotate(20.0 226.0 352.0)"/>
<ellipse class="l" cx="331.0" cy="404.0" rx="4.0" ry="1.8" transform="rotate(15.0 331.0 404.0)"/>
<ellipse class="l" cx="331.6" cy="406.6" rx="4.0" ry="1.8" transform="rotate(15.0 331.6 406.6)"/>
<ellipse class="l" cx="332.2" cy="409.2" rx="4.0" ry="1.8" transform="rotate(15.0 332.2 409.2)"/>
<ellipse class="l" cx="332.8" cy="411.8" rx="4.0" ry="1.8" transform="rotate(15.0 332.8 411.8)"/>
<ellipse class="l" cx="333.4" cy="414.4" rx="4.0" ry="1.8" transform="rotate(15.0 333.4 414.4)"/>
<ellipse class="l" cx="334.0" cy="417.0" rx="4.0" ry="1.8" transform="rotate(15.0 334.0 417.0)"/>
<ellipse class="l" cx="334.6" cy="419.6" rx="4.0" ry="1.8" transform="rotate(15.0 334.6 419.6)"/>
<path class="l" d="M318.0 420.0 C318.7 417.3 319.3 408.0 322.0 404.0 C324.7 400.0 330.0 396.7 334.0 396.0 C338.0 395.3 344.0 399.3 346.0 400.0"/>
<path class="l" d="M190.0 345.0 C195.0 342.5 210.0 334.5 220.0 330.0 C230.0 325.5 240.0 321.0 250.0 318.0 C260.0 315.0 275.0 313.0 280.0 312.0"/>
<path class="l" d="M228.0 296.0 C231.7 297.5 242.2 301.3 250.0 305.0 C257.8 308.7 266.7 314.5 275.0 318.0 C283.3 321.5 295.8 324.7 300.0 326.0"/>
<path class="l" d="M300.0 326.0 C305.0 327.0 320.0 331.3 330.0 332.0 C340.0 332.7 350.8 331.7 360.0 330.0 C369.2 328.3 380.8 323.3 385.0 322.0"/>
<path class="l" d="M183.0 396.0 C185.8 393.3 193.0 384.3 200.0 380.0 C207.0 375.7 217.5 371.3 225.0 370.0 C232.5 368.7 241.7 371.7 245.0 372.0"/>
<path class="l" d="M262.0 443.0 C265.0 440.0 273.7 430.8 280.0 425.0 C286.3 419.2 294.2 413.0 300.0 408.0 C305.8 403.0 312.5 397.2 315.0 395.0"/>
<path class="l" d="M300.0 440.0 C303.3 437.5 313.7 430.8 320.0 425.0 C326.3 419.2 333.0 411.7 338.0 405.0 C343.0 398.3 346.0 392.5 350.0 385.0 C354.0 377.5 358.7 367.5 362.0 360.0 C365.3 352.5 368.7 343.3 370.0 340.0"/>
<path class="l" d="M215.0 310.0 C219.2 312.0 232.2 317.3 240.0 322.0 C247.8 326.7 258.3 335.3 262.0 338.0"/>
<path class="l" d="M320.0 345.0 C324.2 346.2 336.7 351.2 345.0 352.0 C353.3 352.8 362.5 352.0 370.0 350.0 C377.5 348.0 386.7 341.7 390.0 340.0"/>
<path class="l" d="M330.0 360.0 C333.3 362.0 343.0 370.0 350.0 372.0 C357.0 374.0 368.3 372.0 372.0 372.0"/>
<ellipse class="l" cx="300.0" cy="305.0" rx="10.0" ry="6.0" transform="rotate(20.0 300.0 305.0)"/>
<ellipse class="l" cx="300.0" cy="305.0" rx="14.0" ry="9.0" transform="rotate(20.0 300.0 305.0)"/>
<ellipse class="l" cx="300.0" cy="305.0" rx="18.0" ry="12.0" transform="rotate(20.0 300.0 305.0)"/>
<path class="d" d="M278.3 162.7 L280.5 159.4 L314.5 135.0"/>
<path class="d" d="M278.3 162.7 L279.4 168.5 L320.5 192.3"/>
<path class="d" d="M278.3 163.2 L330.0 183.7"/>
<path class="d" d="M280.5 159.4 L289.5 163.0 L291.0 166.5"/>
<path class="d" d="M289.5 163.0 L318.0 141.5"/>
<path class="m" d="M284.5 159.5 L316.5 137.5"/>
<path class="m" d="M284.5 159.5 L291.0 162.3"/>
<path class="m" d="M291.0 166.5 L292.0 171.0"/>
<path class="m" d="M291.0 166.5 L298.0 161.5"/>
<path class="d" d="M298.0 157.0 L299.5 168.0 L303.0 170.0"/>
<path class="d" d="M340.9 178.6 L338.7 179.2 L336.4 179.6 L334.1 179.9 L331.7 180.0 L329.4 180.0 L327.1 179.8 L324.8 179.5 L322.5 179.0 L320.3 178.4 L318.2 177.6 L316.1 176.8 L314.0 175.7 L312.1 174.6 L310.3 173.3 L308.6 172.0 L307.0 170.5 L305.5 168.9 L304.2 167.2 L303.0 165.5 L301.9 163.7 L301.0 161.8 L300.3 159.9 L299.7 157.9 L299.3 155.9"/>
<path class="d" d="M340.1 175.2 L338.3 175.7 L336.5 176.2 L334.7 176.5 L332.8 176.6 L331.0 176.7 L329.2 176.6 L327.3 176.5 L325.5 176.2 L323.7 175.7 L321.9 175.2 L320.2 174.6 L318.6 173.8 L317.0 172.9 L315.4 172.0 L314.0 170.9 L312.6 169.8 L311.3 168.5 L310.1 167.2 L309.0 165.8 L308.1 164.3 L307.2 162.8 L306.4 161.3 L305.8 159.6 L305.3 158.0"/>
<path class="d" d="M340.4 167.0 L339.1 167.5 L337.8 168.0 L336.4 168.4 L335.0 168.6 L333.6 168.9 L332.2 169.0 L330.8 169.0 L329.4 168.9 L328.0 168.8 L326.6 168.6 L325.2 168.3 L323.8 167.9 L322.5 167.4 L321.3 166.8 L320.0 166.2 L318.9 165.5 L317.8 164.7 L316.7 163.9 L315.8 163.0 L314.9 162.1 L314.1 161.1 L313.4 160.0 L312.7 158.9 L312.2 157.8"/>
<path class="m" d="M338.5 162.4 L337.6 162.8 L336.7 163.1 L335.8 163.4 L334.9 163.6 L333.9 163.8 L333.0 163.9 L332.0 164.0 L331.0 164.0 L330.0 164.0 L329.0 163.9 L328.1 163.8 L327.1 163.6 L326.2 163.4 L325.3 163.1 L324.4 162.8 L323.5 162.4 L322.7 162.0 L321.9 161.5 L321.1 161.0 L320.4 160.5 L319.7 159.9 L319.1 159.3 L318.5 158.7 L318.0 158.0"/>
<path class="m" d="M338.6 177.3 L336.6 177.7 L334.6 178.0 L332.6 178.2 L330.6 178.2 L328.5 178.1 L326.5 177.9 L324.5 177.6 L322.5 177.1 L320.6 176.5 L318.7 175.8 L316.9 175.0 L315.1 174.1 L313.5 173.1 L311.9 171.9 L310.4 170.7 L309.0 169.4 L307.7 168.0 L306.5 166.6 L305.4 165.0 L304.4 163.4 L303.6 161.8 L302.9 160.1 L302.4 158.3 L301.9 156.5"/>
<path class="m" d="M305.0 160.0 C306.2 159.7 309.5 158.0 312.0 158.0 C314.5 158.0 318.7 159.7 320.0 160.0"/>
<path class="d" d="M317.0 136.0 L318.0 148.0 L326.0 151.0 L327.0 139.0 L322.0 134.0 Z"/>
<path class="d" d="M317.0 136.0 L322.0 138.0 L327.0 139.0"/>
<path class="d" d="M322.0 138.0 L322.0 150.0"/>
<path class="d" d="M315.0 148.0 L318.0 152.0 L328.0 154.0 L329.0 150.0"/>
<path class="m" d="M319.0 138.0 L319.5 147.0"/>
<path class="m" d="M324.5 140.0 L325.0 149.5"/>
<ellipse class="d" cx="337.6" cy="140.7" rx="3.2" ry="4.2" transform="rotate(25.0 337.6 140.7)"/>
<ellipse class="d" cx="337.6" cy="140.7" rx="1.9" ry="2.7" transform="rotate(25.0 337.6 140.7)"/>
<path class="d" d="M335.8 137.2 L347.5 130.5"/>
<path class="d" d="M340.5 144.6 L352.5 138.0"/>
<path class="m" d="M337.0 139.1 L348.8 132.4"/>
<path class="m" d="M338.2 141.0 L350.0 134.3"/>
<path class="m" d="M339.4 142.9 L351.2 136.2"/>
<path class="k" d="M344.0 131.0 L349.0 129.0 L353.0 132.5 L354.0 138.0 L351.0 140.0"/>
<path class="d" d="M340.7 136.7 L340.5 134.8 L340.6 132.7 L341.1 130.8 L341.9 128.9 L343.0 127.3 L344.5 125.9 L346.1 124.9 L347.8 124.3 L349.7 124.0 L351.5 124.2 L353.2 124.8 L354.8 125.7 L356.2 127.0 L357.3 128.6 L358.0 130.4 L358.5 132.4 L358.5 134.4 L358.2 136.4 L357.5 138.3 L356.5 140.0 L355.2 141.5 L353.6 142.7 L351.9 143.5 L350.1 143.9"/>
<path class="d" d="M339.3 137.1 L339.0 134.8 L339.1 132.5 L339.7 130.2 L340.6 128.1 L342.0 126.3 L343.6 124.7 L345.5 123.5 L347.5 122.8 L349.7 122.5 L351.8 122.7 L353.8 123.4 L355.7 124.5 L357.3 126.0 L358.6 127.8 L359.5 129.9 L359.9 132.2 L360.0 134.5 L359.6 136.8 L358.8 139.0 L357.7 141.0 L356.1 142.7 L354.3 144.0 L352.4 144.9 L350.2 145.4"/>
<path class="d" d="M336.6 136.2 L336.5 133.5 L336.8 130.7 L337.6 128.1 L338.8 125.7 L340.4 123.5 L342.4 121.7 L344.6 120.4 L347.0 119.5 L349.6 119.1 L352.1 119.2 L354.6 119.8 L356.9 120.9 L359.0 122.4 L360.7 124.4 L362.1 126.7 L363.0 129.2 L363.5 131.9 L363.5 134.6 L363.0 137.3 L362.0 139.8 L360.6 142.2 L358.9 144.2 L356.8 145.8 L354.5 147.0"/>
<path class="m" d="M334.0 133.2 L334.3 130.1 L335.0 127.2 L336.3 124.4 L337.9 121.9 L340.0 119.7 L342.4 118.0 L345.0 116.6 L347.8 115.8 L350.7 115.5 L353.5 115.8 L356.3 116.5 L358.9 117.8 L361.3 119.5 L363.3 121.6 L364.9 124.1 L366.1 126.9 L366.8 129.8 L367.0 132.8 L366.7 135.9 L366.0 138.8 L364.7 141.6 L363.1 144.1 L361.0 146.3 L358.6 148.0"/>
<path class="d" d="M343.0 146.0 C343.5 147.0 344.5 150.3 346.0 152.0 C347.5 153.7 351.0 155.3 352.0 156.0"/>
<path class="m" d="M343.0 156.0 L345.0 150.0"/>
<path class="m" d="M351.0 158.0 L354.0 152.0"/>
<ellipse class="d" cx="344.0" cy="153.0" rx="1.2" ry="3.0" transform="rotate(20.0 344.0 153.0)"/>
<ellipse class="d" cx="352.5" cy="156.0" rx="1.2" ry="3.0" transform="rotate(20.0 352.5 156.0)"/>
<path class="d" d="M306.5 116.0 L335.0 123.5 L335.0 136.5 L315.5 131.5 Z"/>
<path class="d" d="M306.5 116.0 L304.0 118.0 L313.0 133.5 L315.5 131.5"/>
<path class="m" d="M313.0 133.5 L333.0 138.5 L335.0 136.5"/>
<ellipse class="d" cx="296.5" cy="94.0" rx="8.5" ry="12.5" transform="rotate(35.0 296.5 94.0)"/>
<ellipse class="m" cx="297.5" cy="93.0" rx="6.0" ry="9.5" transform="rotate(35.0 297.5 93.0)"/>
<path class="d" d="M290.0 100.0 C291.0 101.7 293.7 107.0 296.0 110.0 C298.3 113.0 302.7 116.7 304.0 118.0"/>
<path class="d" d="M301.0 83.0 C302.8 83.5 308.2 83.7 312.0 86.0 C315.8 88.3 322.0 95.2 324.0 97.0"/>
<path class="m" d="M304.0 118.0 C305.3 118.7 309.0 121.5 312.0 122.0 C315.0 122.5 320.3 121.2 322.0 121.0"/>
<ellipse class="m" cx="318.0" cy="110.0" rx="7.5" ry="12.0" transform="rotate(35.0 318.0 110.0)"/>
<path class="m" d="M324.0 97.0 C325.0 98.2 328.3 101.2 330.0 104.0 C331.7 106.8 333.3 112.3 334.0 114.0"/>
<path class="m" d="M322.5 128.0 L321.4 127.2 L320.6 126.2 L319.9 124.9 L319.5 123.4 L319.2 121.7 L319.2 119.9 L319.4 118.0 L319.9 116.0 L320.5 114.0 L321.4 112.0 L322.4 110.1 L323.6 108.3 L325.0 106.6 L326.4 105.1 L327.9 103.9 L329.5 102.8 L331.0 102.0 L332.6 101.5 L334.1 101.3 L335.5 101.3 L336.8 101.7 L337.9 102.3 L338.9 103.2 L339.7 104.3"/>
<path class="l" d="M325.5 130.0 L324.4 129.2 L323.6 128.2 L322.9 126.9 L322.5 125.4 L322.2 123.7 L322.2 121.9 L322.4 120.0 L322.9 118.0 L323.5 116.0 L324.4 114.0 L325.4 112.1 L326.6 110.3 L328.0 108.6 L329.4 107.1 L330.9 105.9 L332.5 104.8 L334.0 104.0 L335.6 103.5 L337.1 103.3 L338.5 103.3 L339.8 103.7 L340.9 104.3 L341.9 105.2 L342.7 106.3"/>
<path class="d" d="M301.5 73.0 C304.2 76.5 312.4 87.0 318.0 94.0 C323.6 101.0 332.2 111.5 335.0 115.0"/>
<path class="d" d="M310.5 69.5 C313.1 70.4 320.8 72.8 326.0 75.0 C331.2 77.2 337.2 79.2 341.5 82.5 C345.8 85.8 348.8 90.9 352.0 95.0 C355.2 99.1 359.2 104.2 361.0 107.0 C362.8 109.8 362.7 111.2 363.0 112.0"/>
<path class="d" d="M301.5 73.0 C302.1 72.3 303.5 69.6 305.0 69.0 C306.5 68.4 309.6 69.4 310.5 69.5"/>
<path class="m" d="M320.0 90.0 C321.7 89.3 326.4 87.2 330.0 86.0 C333.6 84.8 339.6 83.1 341.5 82.5"/>
<path class="m" d="M312.0 74.0 C314.7 77.7 322.5 88.8 328.0 96.0 C333.5 103.2 342.2 113.5 345.0 117.0"/>
<path class="l" d="M333.0 88.0 L362.0 124.0"/>
<path class="d" d="M361.0 112.0 C362.2 112.1 365.7 111.8 368.0 112.5 C370.3 113.2 373.1 114.2 375.0 116.0 C376.9 117.8 378.8 120.5 379.5 123.0 C380.2 125.5 379.9 128.3 379.0 131.0 C378.1 133.7 376.2 136.8 374.0 139.0 C371.8 141.2 367.3 143.2 366.0 144.0"/>
<path class="d" d="M359.0 116.0 C360.0 116.1 363.1 115.8 365.0 116.5 C366.9 117.2 369.0 118.4 370.5 120.0 C372.0 121.6 373.5 123.8 374.0 126.0 C374.5 128.2 374.3 130.7 373.5 133.0 C372.7 135.3 370.8 138.1 369.0 140.0 C367.2 141.9 364.0 143.8 363.0 144.5"/>
<path class="m" d="M356.0 119.0 C357.0 119.2 360.2 119.2 362.0 120.0 C363.8 120.8 365.8 122.3 367.0 124.0 C368.2 125.7 369.3 127.8 369.5 130.0 C369.7 132.2 369.1 134.8 368.0 137.0 C366.9 139.2 363.8 142.0 363.0 143.0"/>
<path class="d" d="M370.5 120.0 L375.5 116.3"/>
<path class="d" d="M373.0 124.0 L378.6 120.5"/>
<path class="d" d="M374.0 129.0 L379.6 126.0"/>
<path class="d" d="M373.2 134.0 L378.5 132.5"/>
<path class="d" d="M370.5 138.5 L375.5 137.5"/>
<path class="m" d="M343.0 112.0 C342.2 113.0 339.0 115.3 338.0 118.0 C337.0 120.7 337.2 126.3 337.0 128.0"/>
<path class="m" d="M344.0 93.0 L347.0 97.0 L345.0 99.0"/>
<path class="m" d="M348.0 92.0 L351.0 96.0 L349.0 100.0"/>
<path class="m" d="M352.0 94.0 L354.0 98.0"/>
<path class="m" d="M331.0 80.0 L333.0 84.0 L331.5 87.0"/>
<path class="d" d="M303.0 49.0 L387.0 73.3"/>
<path class="d" d="M301.0 67.0 L383.0 90.5"/>
<path class="d" d="M297.0 40.5 C297.5 41.2 299.0 43.6 300.0 45.0 C301.0 46.4 302.5 48.3 303.0 49.0"/>
<path class="d" d="M296.0 64.5 C296.4 64.8 297.7 66.1 298.5 66.5 C299.3 66.9 300.6 66.9 301.0 67.0"/>
<ellipse class="m" cx="304.0" cy="56.5" rx="3.0" ry="7.8" transform="rotate(-18.0 304.0 56.5)"/>
<path class="d" d="M316.3 61.6 L318.2 62.1 L316.5 68.4 L314.6 67.9 Z"/>
<path class="d" d="M320.5 62.9 L322.4 63.4 L320.7 69.6 L318.8 69.1 Z"/>
<path class="d" d="M324.7 64.1 L326.6 64.6 L324.9 70.9 L323.0 70.4 Z"/>
<path class="d" d="M328.9 65.4 L330.8 65.9 L329.1 72.1 L327.2 71.6 Z"/>
<path class="d" d="M333.1 66.6 L335.0 67.1 L333.3 73.4 L331.4 72.9 Z"/>
<path class="d" d="M337.3 67.9 L339.2 68.4 L337.5 74.6 L335.6 74.1 Z"/>
<path class="d" d="M341.5 69.1 L343.4 69.6 L341.7 75.9 L339.8 75.4 Z"/>
<path class="d" d="M345.7 70.4 L347.6 70.9 L345.9 77.1 L344.0 76.6 Z"/>
<path class="d" d="M349.9 71.6 L351.8 72.1 L350.1 78.4 L348.2 77.9 Z"/>
<path class="d" d="M310.6 51.1 L315.9 52.6 L313.4 55.3 L308.1 53.8 Z"/>
<path class="d" d="M325.8 56.1 L331.1 57.6 L328.6 60.3 L323.3 58.8 Z"/>
<path class="d" d="M341.0 61.1 L346.3 62.6 L343.8 65.3 L338.5 63.8 Z"/>
<path class="d" d="M356.2 66.1 L361.5 67.6 L359.0 70.3 L353.7 68.8 Z"/>
<path class="d" d="M371.4 71.1 L376.7 72.6 L374.2 75.3 L368.9 73.8 Z"/>
<path class="l" d="M330.4 60.2 L332.5 60.8 L331.6 63.8 L329.5 63.2 Z"/>
<path class="l" d="M336.4 61.9 L338.5 62.5 L337.6 65.5 L335.5 64.9 Z"/>
<path class="l" d="M342.4 63.6 L344.5 64.2 L343.6 67.2 L341.5 66.6 Z"/>
<path class="l" d="M348.4 65.3 L350.5 65.9 L349.6 68.9 L347.5 68.3 Z"/>
<path class="l" d="M354.4 67.0 L356.5 67.6 L355.6 70.6 L353.5 70.0 Z"/>
<path class="d" d="M384.1 91.4 L383.8 91.5 L383.4 91.4 L383.0 91.1 L382.7 90.7 L382.3 90.1 L382.0 89.4 L381.7 88.6 L381.5 87.7 L381.2 86.7 L381.1 85.7 L381.0 84.6 L380.9 83.5 L380.9 82.4 L380.9 81.3 L381.0 80.3 L381.1 79.3 L381.3 78.5 L381.6 77.7 L381.8 77.1 L382.1 76.6 L382.5 76.2 L382.8 76.0 L383.2 75.9 L383.5 76.0"/>
<path class="d" d="M388.7 95.3 L388.1 95.3 L387.5 95.1 L386.9 94.7 L386.4 94.1 L385.9 93.2 L385.4 92.2 L385.0 91.1 L384.7 89.8 L384.4 88.4 L384.2 86.9 L384.1 85.4 L384.1 83.8 L384.2 82.3 L384.3 80.8 L384.6 79.3 L384.9 78.0 L385.2 76.8 L385.7 75.7 L386.2 74.8 L386.7 74.1 L387.3 73.6 L387.8 73.4 L388.4 73.3 L389.0 73.5"/>
<ellipse class="d" cx="391.0" cy="84.6" rx="4.4" ry="11.0" transform="rotate(0.0 391.0 84.6)"/>
<ellipse class="m" cx="393.2" cy="84.9" rx="3.8" ry="9.8" transform="rotate(0.0 393.2 84.9)"/>
<ellipse class="d" cx="394.0" cy="85.0" rx="3.2" ry="8.6" transform="rotate(0.0 394.0 85.0)"/>
<path class="d" d="M387.5 73.4 L391.3 73.6"/>
<path class="d" d="M388.0 95.3 L391.2 95.6"/>
<path class="d" d="M396.5 78.5 C396.8 79.1 397.8 81.0 398.5 82.0 C399.2 83.0 398.8 83.8 400.5 84.5 C402.2 85.2 407.6 86.2 409.0 86.5"/>
<path class="d" d="M396.0 92.0 C396.5 92.1 397.8 92.4 399.0 92.5 C400.2 92.6 402.8 92.8 403.5 92.8"/>
<path class="k" d="M404.0 90.0 C404.1 89.6 403.8 88.2 404.5 87.5 C405.2 86.8 406.8 86.1 408.0 86.0 C409.2 85.9 411.2 86.3 412.0 87.0 C412.8 87.7 412.4 89.5 412.5 90.0"/>
<path class="k" d="M404.0 90.0 L405.0 104.0 L412.5 105.5 L412.5 90.0"/>
<path class="m" d="M406.0 91.0 C406.0 90.6 405.6 89.1 406.0 88.5 C406.4 87.9 407.8 87.5 408.5 87.5 C409.2 87.5 410.1 87.9 410.5 88.5 C410.9 89.1 410.9 90.6 411.0 91.0"/>
<path class="m" d="M406.0 91.0 L406.5 103.0 L411.0 104.0 L411.0 91.0"/>
<path class="d" d="M411.0 84.0 C411.5 83.8 412.9 82.5 414.0 82.5 C415.1 82.5 416.7 83.1 417.5 84.0 C418.3 84.9 418.9 86.7 419.0 88.0 C419.1 89.3 418.2 91.3 418.0 92.0"/>
<path class="d" d="M418.0 92.0 L418.0 101.0 L413.0 105.0"/>
<path class="d" d="M404.5 104.0 C404.6 104.7 404.2 107.0 405.0 108.0 C405.8 109.0 407.7 109.8 409.0 110.0 C410.3 110.2 412.2 109.8 413.0 109.0 C413.8 108.2 413.4 106.1 413.5 105.5"/>
<path class="m" d="M405.0 106.0 C405.7 106.3 407.7 107.8 409.0 108.0 C410.3 108.2 412.3 107.2 413.0 107.0"/>
<path class="m" d="M414.5 86.0 L415.0 100.0"/>
<ellipse class="d" cx="291.3" cy="52.5" rx="7.6" ry="11.6" transform="rotate(-8.0 291.3 52.5)"/>
<ellipse class="d" cx="290.0" cy="52.8" rx="8.6" ry="12.6" transform="rotate(-8.0 290.0 52.8)"/>
<ellipse class="d" cx="288.0" cy="53.0" rx="9.0" ry="13.2" transform="rotate(-8.0 288.0 53.0)"/>
<ellipse class="m" cx="292.0" cy="52.3" rx="6.6" ry="10.4" transform="rotate(-8.0 292.0 52.3)"/>
<ellipse class="m" cx="285.5" cy="53.5" rx="8.5" ry="13.0" transform="rotate(-8.0 285.5 53.5)"/>
<path class="d" d="M294.0 41.0 C294.3 40.6 295.5 39.1 296.0 38.5 C296.5 37.9 296.8 37.7 297.0 37.5"/>
<path class="d" d="M293.0 64.0 C293.7 63.9 295.8 63.8 297.0 63.5 C298.2 63.2 299.5 62.7 300.0 62.5"/>
<path class="d" d="M276.9 36.3 L286.3 29.4 L294.4 30.6 L296.9 37.5 L283.8 40.6 Z"/>
<path class="d" d="M279.4 35.6 L286.9 31.2 L291.9 32.5 L284.4 37.5 Z"/>
<path class="d" d="M283.8 40.6 L284.0 44.0"/>
<path class="d" d="M296.9 37.5 L297.0 41.0"/>
<path class="d" d="M276.9 36.3 L277.0 40.0"/>
<path class="m" d="M277.0 40.0 L284.0 44.0 L296.0 39.0"/>
<path class="d" d="M275.0 40.0 L276.0 62.0 L277.0 75.0 L271.0 75.6 L272.0 82.5 L281.3 85.0 L283.8 84.0"/>
<path class="d" d="M283.8 70.0 L300.0 62.5 L302.5 70.0 L284.0 84.0 L283.8 70.0"/>
<path class="d" d="M277.0 75.0 L283.8 70.0"/>
<path class="d" d="M281.3 85.0 L281.3 76.0"/>
<path class="m" d="M286.0 72.0 L297.0 66.5 L298.0 70.0 L287.0 76.0 Z"/>
<path class="d" d="M279.0 42.0 L279.5 68.0"/>
<path class="m" d="M281.5 43.0 L282.0 69.0"/>
<path class="m" d="M279.0 45.0 C278.6 46.2 276.5 49.5 276.5 52.0 C276.5 54.5 278.6 58.7 279.0 60.0"/>
<path class="d" d="M260.6 36.0 C260.8 35.3 261.1 33.1 262.0 32.0 C262.9 30.9 264.6 30.0 266.0 29.5 C267.4 29.0 269.1 28.7 270.6 29.0 C272.1 29.3 273.9 30.3 275.0 31.5 C276.1 32.7 276.6 35.5 276.9 36.3"/>
<path class="d" d="M260.6 36.0 C260.6 37.2 260.1 41.0 260.5 43.0 C260.9 45.0 261.8 46.8 263.0 48.0 C264.2 49.2 266.2 50.0 268.0 50.0 C269.8 50.0 273.0 48.3 274.0 48.0"/>
<path class="m" d="M263.0 34.0 C263.5 33.6 264.8 32.0 266.0 31.5 C267.2 31.0 268.8 30.7 270.0 31.0 C271.2 31.3 272.5 33.1 273.0 33.5"/>
<ellipse class="d" cx="266.0" cy="40.0" rx="3.0" ry="4.2" transform="rotate(0.0 266.0 40.0)"/>
<ellipse class="d" cx="265.5" cy="40.0" rx="1.8" ry="2.8" transform="rotate(0.0 265.5 40.0)"/>
<path class="m" d="M262.0 36.0 L262.5 44.0"/>
<path class="m" d="M270.0 33.0 L271.0 46.0"/>
<path class="m" d="M273.0 34.0 L274.0 47.0"/>
<path class="m" d="M268.0 29.2 L268.5 25.5 L275.0 24.5 L280.0 27.0 L280.0 33.0"/>
<path class="d" d="M263.0 50.0 L262.5 58.0 L266.0 62.0 L276.0 62.5"/>
<path class="d" d="M264.5 57.0 L264.0 66.0 L268.0 70.5 L277.0 71.0"/>
<ellipse class="d" cx="267.5" cy="64.5" rx="2.4" ry="3.2" transform="rotate(0.0 267.5 64.5)"/>
<ellipse class="d" cx="267.5" cy="64.5" rx="1.2" ry="1.8" transform="rotate(0.0 267.5 64.5)"/>
<path class="m" d="M266.0 52.0 L275.5 54.0"/>
<path class="m" d="M267.0 56.0 L276.0 58.0"/>
<path class="m" d="M270.0 62.0 L270.0 70.0"/>
<path class="m" d="M273.0 62.3 L273.0 70.5"/>
<path class="d" d="M268.0 70.5 L268.0 78.0 L271.0 80.5 L277.0 80.5"/>
<ellipse class="d" cx="271.5" cy="78.5" rx="1.6" ry="1.6" transform="rotate(0.0 271.5 78.5)"/>
<ellipse class="d" cx="271.5" cy="78.5" rx="0.7" ry="0.7" transform="rotate(0.0 271.5 78.5)"/>
<path class="d" d="M263.5 50.0 L275.0 51.0"/>
<path class="d" d="M82.0 310.0 L84.5 306.5 L120.5 283.5"/>
<path class="d" d="M82.0 310.0 L82.0 316.3 L166.0 370.4 L169.5 362.5"/>
<path class="d" d="M82.0 310.5 L142.4 347.6 L146.8 345.0 L178.0 350.5 L187.0 342.0"/>
<path class="d" d="M142.4 347.6 L143.0 354.5"/>
<path class="m" d="M143.0 354.5 L148.0 352.5 L176.0 357.5 L181.0 352.0"/>
<path class="d" d="M166.0 370.4 L166.0 362.0 L169.5 355.0"/>
<path class="d" d="M84.5 306.5 L101.5 316.5 L103.0 321.0"/>
<path class="d" d="M101.5 316.5 L108.0 312.5 L105.0 310.5 L123.0 298.0"/>
<path class="m" d="M89.0 306.0 L122.5 285.5"/>
<path class="m" d="M89.0 306.0 L100.5 312.5"/>
<path class="m" d="M103.0 321.0 L104.0 325.5"/>
<path class="d" d="M173.0 290.5 L197.5 297.8 L206.0 306.5"/>
<path class="m" d="M197.5 297.8 L198.0 303.0 L204.5 310.5"/>
<path class="d" d="M206.0 306.5 C205.0 308.8 202.7 315.1 200.0 320.0 C197.3 324.9 193.2 331.2 190.0 336.0 C186.8 340.8 182.5 346.8 181.0 349.0"/>
<ellipse class="d" cx="159.5" cy="362.0" rx="1.0" ry="1.0" transform="rotate(0.0 159.5 362.0)"/>
<ellipse class="d" cx="166.5" cy="361.5" rx="1.0" ry="1.0" transform="rotate(0.0 166.5 361.5)"/>
<path class="d" d="M190.8 295.6 L191.7 300.6 L192.0 305.8 L191.5 310.9 L190.3 316.0 L188.4 320.8 L185.8 325.4 L182.6 329.6 L178.8 333.4 L174.5 336.7 L169.8 339.4 L164.8 341.5 L159.4 343.0 L154.0 343.8 L148.4 344.0 L142.9 343.4 L137.5 342.2 L132.3 340.4 L127.4 337.9 L123.0 334.8 L119.0 331.3 L115.5 327.2 L112.6 322.8 L110.4 318.1 L108.9 313.1"/>
<path class="d" d="M186.1 300.4 L186.5 304.5 L186.3 308.6 L185.5 312.7 L184.2 316.6 L182.3 320.4 L179.9 323.9 L177.1 327.2 L173.8 330.0 L170.1 332.5 L166.2 334.6 L162.0 336.2 L157.6 337.3 L153.1 337.9 L148.5 338.0 L144.0 337.5 L139.5 336.6 L135.3 335.2 L131.2 333.3 L127.4 330.9 L124.0 328.2 L121.0 325.1 L118.5 321.7 L116.4 318.0 L114.9 314.1"/>
<path class="d" d="M178.4 307.2 L178.0 309.8 L177.2 312.4 L176.2 314.9 L174.8 317.3 L173.2 319.6 L171.3 321.6 L169.1 323.5 L166.8 325.2 L164.2 326.7 L161.5 327.9 L158.6 328.8 L155.7 329.5 L152.7 329.9 L149.6 330.0 L146.6 329.8 L143.6 329.4 L140.7 328.6 L137.8 327.6 L135.2 326.3 L132.7 324.8 L130.3 323.1 L128.2 321.2 L126.4 319.0 L124.8 316.7"/>
<path class="m" d="M170.3 309.7 L169.7 311.2 L169.0 312.7 L168.1 314.2 L167.0 315.5 L165.8 316.8 L164.5 318.0 L163.1 319.1 L161.5 320.0 L159.9 320.9 L158.2 321.6 L156.4 322.1 L154.5 322.6 L152.7 322.9 L150.8 323.0 L148.9 323.0 L147.0 322.8 L145.1 322.5 L143.2 322.0 L141.5 321.4 L139.8 320.7 L138.1 319.9 L136.6 318.9 L135.2 317.8 L133.9 316.6"/>
<path class="m" d="M188.9 298.7 L189.5 303.3 L189.4 308.0 L188.6 312.6 L187.3 317.1 L185.3 321.4 L182.7 325.4 L179.7 329.1 L176.1 332.4 L172.1 335.3 L167.7 337.6 L163.1 339.4 L158.2 340.7 L153.2 341.4 L148.2 341.5 L143.1 340.9 L138.2 339.8 L133.5 338.2 L129.1 336.0 L125.0 333.2 L121.3 330.0 L118.0 326.5 L115.3 322.5 L113.2 318.3 L111.7 313.8"/>
<path class="d" d="M108.0 316.0 L112.0 313.5 L121.0 318.5"/>
<path class="d" d="M125.0 333.0 L128.0 329.5 L133.0 331.0"/>
<path class="m" d="M118.0 322.0 C119.3 321.3 123.0 318.3 126.0 318.0 C129.0 317.7 134.3 319.7 136.0 320.0"/>
<path class="d" d="M141.0 312.0 L145.0 304.0 L147.0 313.0"/>
<path class="d" d="M155.0 314.0 L160.0 305.0 L161.0 315.0"/>
<path class="d" d="M168.0 312.0 L172.0 303.0 L173.0 312.0"/>
<ellipse class="d" cx="140.0" cy="298.8" rx="3.6" ry="4.8" transform="rotate(25.0 140.0 298.8)"/>
<ellipse class="d" cx="140.0" cy="298.8" rx="2.2" ry="3.2" transform="rotate(25.0 140.0 298.8)"/>
<path class="d" d="M138.0 294.8 L154.4 286.9"/>
<path class="d" d="M143.0 303.0 L158.8 295.0"/>
<path class="m" d="M139.2 296.9 L155.5 288.9"/>
<path class="m" d="M140.5 298.9 L156.6 290.9"/>
<path class="m" d="M141.8 300.9 L157.7 292.9"/>
<path class="k" d="M151.0 286.0 L156.0 284.5 L160.0 288.0 L161.0 294.0 L158.0 297.0"/>
<path class="d" d="M121.0 289.0 L122.0 303.0 L127.0 306.0 L135.0 303.0 L134.5 289.0"/>
<ellipse class="d" cx="127.5" cy="288.0" rx="7.0" ry="4.0" transform="rotate(10.0 127.5 288.0)"/>
<ellipse class="m" cx="127.5" cy="288.0" rx="5.0" ry="2.6" transform="rotate(10.0 127.5 288.0)"/>
<path class="m" d="M124.0 291.5 L124.5 304.0"/>
<path class="m" d="M128.0 292.0 L128.5 306.0"/>
<path class="m" d="M131.5 291.5 L132.0 304.5"/>
<path class="d" d="M119.0 301.0 L123.0 307.0 L135.0 308.0 L137.0 303.0"/>
<path class="d" d="M148.7 296.7 L148.2 294.9 L148.0 293.0 L148.1 291.1 L148.6 289.3 L149.4 287.6 L150.5 286.1 L151.8 284.8 L153.3 283.9 L154.9 283.3 L156.6 283.0 L158.3 283.2 L159.9 283.7 L161.4 284.5 L162.7 285.7 L163.7 287.2 L164.5 288.8 L164.9 290.7 L165.0 292.5 L164.8 294.4 L164.2 296.2 L163.3 297.9 L162.2 299.3 L160.8 300.5 L159.3 301.3"/>
<path class="d" d="M147.3 297.3 L146.7 295.2 L146.5 293.1 L146.6 290.9 L147.2 288.8 L148.1 286.8 L149.4 285.0 L150.9 283.6 L152.7 282.5 L154.6 281.8 L156.6 281.5 L158.6 281.7 L160.5 282.3 L162.2 283.3 L163.8 284.7 L165.0 286.4 L165.9 288.3 L166.4 290.4 L166.5 292.6 L166.2 294.7 L165.6 296.8 L164.6 298.8 L163.2 300.4 L161.6 301.8 L159.8 302.7"/>
<path class="d" d="M144.2 297.1 L143.6 294.4 L143.5 291.6 L143.9 288.9 L144.7 286.2 L146.0 283.8 L147.8 281.7 L149.8 279.9 L152.2 278.6 L154.7 277.8 L157.3 277.5 L159.9 277.8 L162.3 278.6 L164.6 279.8 L166.6 281.6 L168.3 283.7 L169.5 286.1 L170.3 288.8 L170.5 291.5 L170.3 294.3 L169.6 297.0 L168.4 299.5 L166.8 301.7 L164.8 303.6 L162.6 305.0"/>
<path class="d" d="M139.7 295.1 L139.5 291.3 L140.0 287.4 L141.2 283.7 L143.0 280.3 L145.4 277.4 L148.4 275.0 L151.6 273.3 L155.1 272.3 L158.7 272.1 L162.3 272.6 L165.7 273.9 L168.7 275.9 L171.3 278.5 L173.3 281.7 L174.7 285.2 L175.5 289.0 L175.5 292.9 L174.8 296.7 L173.4 300.3 L171.3 303.6 L168.7 306.4 L165.7 308.6 L162.4 310.1 L158.8 310.9"/>
<path class="m" d="M138.0 291.3 L138.4 287.2 L139.5 283.3 L141.2 279.7 L143.6 276.5 L146.5 273.8 L149.8 271.7 L153.3 270.3 L157.1 269.6 L160.9 269.7 L164.5 270.6 L168.0 272.1 L171.1 274.4 L173.7 277.3 L175.8 280.6 L177.2 284.3 L177.9 288.3 L178.0 292.3 L177.3 296.3 L175.9 300.1 L173.9 303.6 L171.4 306.6 L168.3 309.1 L164.9 311.0 L161.2 312.1"/>
<path class="d" d="M168.0 306.0 C168.3 307.0 170.3 310.0 170.0 312.0 C169.7 314.0 166.7 317.0 166.0 318.0"/>
<path class="m" d="M160.0 305.0 L158.0 312.0"/>
<path class="d" d="M108.0 260.5 L111.0 258.5 L142.0 271.0 L147.0 281.0 L144.0 283.0"/>
<path class="d" d="M108.0 260.5 L140.0 273.5 L144.0 283.0"/>
<path class="d" d="M108.0 260.5 C108.8 262.8 110.7 269.9 113.0 274.0 C115.3 278.1 120.5 283.2 122.0 285.0"/>
<path class="m" d="M140.0 273.5 L141.0 290.0"/>
<path class="d" d="M142.0 258.0 L150.0 262.0 L148.0 270.0 L140.0 266.0 Z"/>
<ellipse class="d" cx="104.0" cy="231.0" rx="9.5" ry="12.0" transform="rotate(35.0 104.0 231.0)"/>
<ellipse class="m" cx="105.0" cy="229.5" rx="7.0" ry="9.0" transform="rotate(35.0 105.0 229.5)"/>
<path class="d" d="M96.0 238.0 C96.7 240.3 97.7 248.0 100.0 252.0 C102.3 256.0 108.3 260.3 110.0 262.0"/>
<path class="d" d="M110.0 221.0 C112.3 221.8 119.3 222.8 124.0 226.0 C128.7 229.2 135.7 237.7 138.0 240.0"/>
<path class="m" d="M110.0 262.0 C111.7 263.0 116.3 267.0 120.0 268.0 C123.7 269.0 130.0 268.0 132.0 268.0"/>
<ellipse class="m" cx="128.0" cy="252.0" rx="9.0" ry="14.0" transform="rotate(35.0 128.0 252.0)"/>
<path class="m" d="M135.3 283.2 L133.6 282.5 L132.2 281.5 L131.1 280.0 L130.2 278.2 L129.7 276.1 L129.5 273.7 L129.7 271.2 L130.2 268.5 L131.1 265.7 L132.2 262.9 L133.6 260.3 L135.3 257.7 L137.1 255.4 L139.1 253.3 L141.2 251.6 L143.4 250.3 L145.5 249.3 L147.6 248.8 L149.5 248.7 L151.3 249.0 L152.9 249.8 L154.2 251.0 L155.3 252.6 L156.0 254.5"/>
<path class="l" d="M139.3 285.2 L137.6 284.5 L136.2 283.5 L135.1 282.0 L134.2 280.2 L133.7 278.1 L133.5 275.7 L133.7 273.2 L134.2 270.5 L135.1 267.7 L136.2 264.9 L137.6 262.3 L139.3 259.7 L141.1 257.4 L143.1 255.3 L145.2 253.6 L147.4 252.3 L149.5 251.3 L151.6 250.8 L153.5 250.7 L155.3 251.0 L156.9 251.8 L158.2 253.0 L159.3 254.6 L160.0 256.5"/>
<path class="l" d="M130.5 277.7 L129.3 276.8 L128.4 275.7 L127.6 274.2 L127.1 272.6 L126.9 270.7 L126.9 268.6 L127.2 266.5 L127.7 264.2 L128.4 262.0 L129.4 259.7 L130.6 257.6 L131.9 255.5 L133.5 253.6 L135.1 251.9 L136.8 250.5 L138.5 249.3 L140.3 248.4 L142.0 247.8 L143.7 247.5 L145.3 247.5 L146.7 247.9 L148.0 248.6 L149.1 249.6 L149.9 250.9"/>
<path class="l" d="M138.0 240.0 C139.3 241.7 144.0 246.3 146.0 250.0 C148.0 253.7 149.3 260.0 150.0 262.0"/>
<path class="m" d="M150.0 262.0 C151.3 261.3 155.0 258.5 158.0 258.0 C161.0 257.5 166.3 258.8 168.0 259.0"/>
<path class="m" d="M152.0 268.0 C153.3 267.3 157.0 264.5 160.0 264.0 C163.0 263.5 168.3 264.8 170.0 265.0"/>
<ellipse class="l" cx="158.0" cy="266.0" rx="6.0" ry="9.0" transform="rotate(30.0 158.0 266.0)"/>
<ellipse class="l" cx="163.0" cy="270.0" rx="7.0" ry="10.0" transform="rotate(30.0 163.0 270.0)"/>
<path class="m" d="M146.0 272.0 L152.0 268.0 L158.0 274.0 L152.0 279.0 Z"/>
<path class="m" d="M132.0 268.0 C133.3 269.3 137.7 273.3 140.0 276.0 C142.3 278.7 145.0 282.7 146.0 284.0"/>
<path class="l" d="M120.0 268.0 C121.3 270.0 125.3 276.3 128.0 280.0 C130.7 283.7 134.7 288.3 136.0 290.0"/>
<path class="m" d="M160.0 254.0 L172.0 260.0"/>
<path class="l" d="M156.0 250.0 L170.0 256.0"/>
<path class="m" d="M166.0 300.0 C167.0 301.0 169.7 304.7 172.0 306.0 C174.3 307.3 177.3 308.3 180.0 308.0 C182.7 307.7 186.7 304.7 188.0 304.0"/>
<path class="m" d="M176.0 298.0 C177.3 298.3 181.7 300.3 184.0 300.0 C186.3 299.7 189.0 296.7 190.0 296.0"/>
<path class="m" d="M186.0 292.0 L196.0 288.0 L200.0 296.0"/>
<path class="m" d="M190.0 284.0 L198.0 280.0"/>
<path class="d" d="M196.0 262.0 C196.7 263.0 199.2 265.7 200.0 268.0 C200.8 270.3 201.3 273.3 201.0 276.0 C200.7 278.7 198.5 282.7 198.0 284.0"/>
<path class="d" d="M193.0 283.0 L198.0 284.0"/>
<path class="m" d="M194.0 266.0 L199.5 266.5"/>
<path class="m" d="M194.6 269.6 L199.8 269.9"/>
<path class="m" d="M195.2 273.2 L200.1 273.3"/>
<path class="m" d="M195.8 276.8 L200.4 276.7"/>
<path class="m" d="M196.4 280.4 L200.7 280.1"/>
<path class="d" d="M82.0 158.0 C83.1 158.4 85.0 158.1 88.5 160.5 C92.0 162.9 96.8 168.1 103.0 172.5 C109.2 176.9 117.8 180.2 126.0 187.0 C134.2 193.8 143.8 204.5 152.0 213.0 C160.2 221.5 171.2 233.8 175.0 238.0"/>
<path class="m" d="M89.0 209.0 C90.8 211.2 94.8 216.0 100.0 222.0 C105.2 228.0 113.3 237.3 120.0 245.0 C126.7 252.7 136.7 264.2 140.0 268.0"/>
<path class="d" d="M132.0 188.0 L134.0 186.0 L136.0 188.5"/>
<path class="d" d="M165.0 224.0 L167.0 222.0 L169.0 225.0"/>
<path class="l" d="M103.0 172.5 C103.8 174.8 107.8 182.1 108.0 186.0 C108.2 189.9 104.7 194.3 104.0 196.0"/>
<path class="d" d="M136.0 222.0 L152.0 262.0"/>
<path class="d" d="M128.0 226.0 L144.0 268.0"/>
<path class="d" d="M140.0 262.0 L148.0 258.0 L152.0 262.0 L145.0 268.0 Z"/>
<path class="d" d="M172.5 260.0 C173.9 260.1 178.2 259.5 181.0 260.5 C183.8 261.5 187.0 263.8 189.0 266.0 C191.0 268.2 192.5 271.2 193.0 274.0 C193.5 276.8 193.0 280.2 192.0 283.0 C191.0 285.8 189.0 288.7 187.0 291.0 C185.0 293.3 181.2 296.0 180.0 297.0"/>
<path class="d" d="M170.0 264.0 C171.2 264.1 174.7 263.6 177.0 264.5 C179.3 265.4 182.2 267.4 184.0 269.5 C185.8 271.6 187.1 274.4 187.5 277.0 C187.9 279.6 187.4 282.5 186.5 285.0 C185.6 287.5 183.8 289.8 182.0 292.0 C180.2 294.2 177.0 297.0 176.0 298.0"/>
<path class="m" d="M166.0 267.0 C167.2 267.2 170.8 267.4 173.0 268.5 C175.2 269.6 177.5 271.6 179.0 273.5 C180.5 275.4 181.7 277.6 182.0 280.0 C182.3 282.4 182.0 285.3 181.0 288.0 C180.0 290.7 176.8 294.7 176.0 296.0"/>
<path class="d" d="M184.0 269.5 L189.0 266.0"/>
<path class="d" d="M186.5 274.0 L192.0 271.0"/>
<path class="d" d="M187.5 279.0 L193.0 277.0"/>
<path class="d" d="M186.8 284.0 L192.0 283.0"/>
<path class="d" d="M184.0 289.0 L189.0 288.5"/>
<path class="m" d="M177.5 266.0 L178.3 264.7"/>
<path class="m" d="M178.7 267.5 L179.5 266.1"/>
<path class="m" d="M179.9 269.0 L180.7 267.5"/>
<path class="m" d="M181.1 270.5 L181.9 268.9"/>
<path class="m" d="M182.3 272.0 L183.1 270.3"/>
<path class="m" d="M183.5 273.5 L184.3 271.7"/>
<path class="l" d="M172.0 266.0 L186.0 262.0"/>
<path class="d" d="M90.0 188.0 L178.0 230.0"/>
<path class="d" d="M85.0 203.0 L175.5 251.0"/>
<path class="d" d="M80.0 198.0 C80.5 198.6 82.2 200.7 83.0 201.5 C83.8 202.3 84.7 202.8 85.0 203.0"/>
<path class="d" d="M84.0 176.0 C84.7 177.2 87.0 181.0 88.0 183.0 C89.0 185.0 89.7 187.2 90.0 188.0"/>
<path class="d" d="M100.9 204.7 L103.4 205.9 L101.1 210.9 L98.6 209.7 Z"/>
<path class="d" d="M105.3 207.0 L107.9 208.2 L105.6 213.2 L103.0 212.0 Z"/>
<path class="d" d="M109.8 209.3 L112.3 210.5 L110.0 215.5 L107.5 214.3 Z"/>
<path class="d" d="M114.2 211.6 L116.8 212.8 L114.5 217.8 L111.9 216.6 Z"/>
<path class="d" d="M118.7 213.9 L121.2 215.1 L118.9 220.1 L116.4 218.9 Z"/>
<path class="d" d="M123.1 216.2 L125.7 217.4 L123.4 222.4 L120.8 221.2 Z"/>
<path class="d" d="M127.6 218.5 L130.1 219.7 L127.8 224.7 L125.3 223.5 Z"/>
<path class="d" d="M132.0 220.8 L134.6 222.0 L132.3 227.0 L129.7 225.8 Z"/>
<path class="d" d="M136.5 223.1 L139.0 224.3 L136.7 229.3 L134.2 228.1 Z"/>
<path class="d" d="M140.9 225.4 L143.5 226.6 L141.2 231.6 L138.6 230.4 Z"/>
<path class="d" d="M94.5 191.3 L101.3 194.5 L97.5 196.7 L90.7 193.5 Z"/>
<path class="d" d="M111.7 199.4 L118.5 202.6 L114.7 204.8 L107.9 201.6 Z"/>
<path class="d" d="M128.9 207.5 L135.7 210.7 L131.9 212.9 L125.1 209.7 Z"/>
<path class="d" d="M146.1 215.6 L152.9 218.8 L149.1 221.0 L142.3 217.8 Z"/>
<path class="d" d="M163.3 223.7 L170.1 226.9 L166.3 229.1 L159.5 225.9 Z"/>
<path class="l" d="M111.6 203.0 L113.8 204.0 L112.4 207.0 L110.2 206.0 Z"/>
<path class="l" d="M117.6 205.8 L119.8 206.8 L118.4 209.8 L116.2 208.8 Z"/>
<path class="l" d="M123.6 208.6 L125.8 209.6 L124.4 212.6 L122.2 211.6 Z"/>
<path class="l" d="M129.6 211.4 L131.8 212.4 L130.4 215.4 L128.2 214.4 Z"/>
<path class="l" d="M135.6 214.2 L137.8 215.2 L136.4 218.2 L134.2 217.2 Z"/>
<path class="m" d="M88.0 196.5 L96.0 200.0"/>
<path class="l" d="M115.0 210.0 C115.5 209.3 116.5 206.0 118.0 206.0 C119.5 206.0 122.3 209.8 124.0 210.0 C125.7 210.2 126.5 206.5 128.0 207.0 C129.5 207.5 132.2 212.0 133.0 213.0"/>
<path class="d" d="M174.7 251.8 L174.2 251.8 L173.8 251.5 L173.4 251.0 L173.1 250.3 L172.8 249.5 L172.6 248.4 L172.5 247.2 L172.4 245.9 L172.5 244.5 L172.6 243.0 L172.8 241.5 L173.0 239.9 L173.4 238.4 L173.7 237.0 L174.2 235.6 L174.7 234.3 L175.2 233.2 L175.7 232.2 L176.2 231.4 L176.8 230.8 L177.3 230.4 L177.8 230.2 L178.3 230.2 L178.8 230.4"/>
<path class="d" d="M178.7 255.2 L178.1 255.0 L177.5 254.6 L177.0 254.0 L176.6 253.1 L176.3 252.1 L176.1 250.8 L176.0 249.3 L176.0 247.7 L176.2 246.0 L176.4 244.3 L176.7 242.4 L177.2 240.6 L177.7 238.8 L178.3 237.1 L179.0 235.5 L179.7 234.0 L180.4 232.7 L181.2 231.6 L182.0 230.7 L182.7 230.0 L183.5 229.6 L184.2 229.4 L184.8 229.5 L185.4 229.9"/>
<ellipse class="d" cx="187.0" cy="242.8" rx="6.2" ry="13.4" transform="rotate(14.0 187.0 242.8)"/>
<ellipse class="m" cx="188.6" cy="242.7" rx="5.4" ry="12.0" transform="rotate(14.0 188.6 242.7)"/>
<ellipse class="d" cx="190.0" cy="242.3" rx="4.4" ry="9.8" transform="rotate(14.0 190.0 242.3)"/>
<path class="d" d="M178.3 229.8 L184.0 229.3 L190.2 229.9"/>
<path class="d" d="M176.6 252.0 L180.5 255.3 L184.0 256.2"/>
<path class="d" d="M195.5 237.5 C195.8 238.3 195.4 240.7 197.5 242.5 C199.6 244.3 206.2 247.5 208.0 248.5"/>
<path class="d" d="M191.0 252.3 C191.7 252.3 193.6 252.1 195.0 252.5 C196.4 252.9 198.8 254.6 199.6 255.0"/>
<ellipse class="k" cx="205.0" cy="265.0" rx="4.4" ry="12.2" transform="rotate(-26.0 205.0 265.0)"/>
<ellipse class="d" cx="205.8" cy="265.3" rx="3.2" ry="10.4" transform="rotate(-26.0 205.8 265.3)"/>
<ellipse class="m" cx="207.5" cy="264.5" rx="4.4" ry="12.2" transform="rotate(-26.0 207.5 264.5)"/>
<path class="d" d="M201.0 254.0 L206.0 251.5"/>
<path class="d" d="M210.0 276.0 L214.0 274.5"/>
<path class="d" d="M209.0 247.0 C209.8 246.5 212.2 244.0 214.0 244.0 C215.8 244.0 218.5 245.3 220.0 247.0 C221.5 248.7 222.7 251.8 223.0 254.0 C223.3 256.2 222.2 259.0 222.0 260.0"/>
<path class="m" d="M211.0 249.0 C211.7 248.7 213.7 246.9 215.0 247.0 C216.3 247.1 218.0 248.2 219.0 249.5 C220.0 250.8 220.7 254.1 221.0 255.0"/>
<path class="d" d="M222.0 260.0 L223.0 270.0 L220.0 276.0"/>
<path class="d" d="M210.0 271.0 C210.3 271.8 210.8 274.8 212.0 276.0 C213.2 277.2 215.5 278.0 217.0 278.0 C218.5 278.0 220.3 276.3 221.0 276.0"/>
<path class="m" d="M211.0 268.0 C211.7 268.8 213.3 272.3 215.0 273.0 C216.7 273.7 220.0 272.2 221.0 272.0"/>
<path class="d" d="M213.0 254.0 L214.0 270.0"/>
<path class="m" d="M217.0 256.0 L218.0 272.0"/>
<ellipse class="m" cx="218.0" cy="251.0" rx="3.5" ry="5.0" transform="rotate(-25.0 218.0 251.0)"/>
<ellipse class="d" cx="73.7" cy="187.2" rx="13.8" ry="14.5" transform="rotate(0.0 73.7 187.2)"/>
<ellipse class="d" cx="73.7" cy="187.2" rx="11.8" ry="12.5" transform="rotate(0.0 73.7 187.2)"/>
<ellipse class="m" cx="76.0" cy="186.0" rx="10.5" ry="11.5" transform="rotate(0.0 76.0 186.0)"/>
<path class="m" d="M81.0 177.0 C81.5 176.8 82.8 175.8 84.0 176.0 C85.2 176.2 87.3 177.7 88.0 178.0"/>
<path class="d" d="M46.5 172.0 L67.0 160.0 L81.5 158.0 L86.0 164.5 L88.0 178.0"/>
<path class="d" d="M46.5 172.0 L48.0 196.0 L52.0 206.0 L60.0 219.0 L70.5 224.5 L90.0 209.5 L89.0 200.0"/>
<path class="d" d="M46.5 172.0 L60.0 178.0 L86.0 164.5"/>
<path class="d" d="M49.0 174.5 L60.0 180.0 L62.0 219.0"/>
<path class="m" d="M60.0 178.0 L60.0 182.0"/>
<path class="d" d="M64.0 212.0 L70.5 216.0 L70.5 224.5"/>
<path class="d" d="M70.5 216.0 L89.0 201.0"/>
<path class="m" d="M72.0 211.0 L80.0 205.0 L80.0 209.5 L72.0 215.5 Z"/>
<path class="d" d="M58.0 166.0 L71.0 158.5 L76.0 160.0 L63.0 168.0 Z"/>
<path class="m" d="M60.0 166.0 L71.0 160.5 L74.0 161.0 L63.0 167.0 Z"/>
<path class="d" d="M36.0 166.0 L40.0 162.0 L46.0 164.0 L47.0 172.0"/>
<path class="d" d="M36.0 166.0 L37.0 174.0 L42.0 177.0 L47.0 175.0"/>
<path class="m" d="M37.5 165.0 L38.0 174.5"/>
<path class="m" d="M39.7 165.8 L40.2 175.2"/>
<path class="m" d="M41.9 166.6 L42.4 175.9"/>
<path class="m" d="M44.1 167.4 L44.6 176.6"/>
<path class="d" d="M47.0 160.0 L52.0 156.0 L59.0 157.5 L60.0 164.0"/>
<path class="d" d="M47.0 160.0 L47.5 168.0"/>
<path class="m" d="M48.5 159.5 L49.0 167.0"/>
<path class="m" d="M50.7 160.1 L51.2 167.2"/>
<path class="m" d="M52.9 160.7 L53.4 167.4"/>
<path class="m" d="M55.1 161.3 L55.6 167.6"/>
<path class="m" d="M57.3 161.9 L57.8 167.8"/>
<ellipse class="m" cx="53.5" cy="157.0" rx="5.5" ry="2.2" transform="rotate(10.0 53.5 157.0)"/>
<path class="d" d="M42.0 178.0 L41.0 190.0 L45.0 196.0 L48.0 196.0"/>
<path class="m" d="M44.0 192.0 L43.0 204.0 L47.0 210.0 L52.0 208.0"/>
<ellipse class="d" cx="47.0" cy="192.5" rx="1.3" ry="2.0" transform="rotate(0.0 47.0 192.5)"/>
<ellipse class="d" cx="48.0" cy="199.0" rx="1.3" ry="2.0" transform="rotate(0.0 48.0 199.0)"/>
<ellipse class="d" cx="57.0" cy="219.0" rx="1.2" ry="1.2" transform="rotate(0.0 57.0 219.0)"/>
<path class="m" d="M50.0 178.0 L50.0 204.0"/>
<path class="m" d="M53.0 180.0 L53.5 207.0"/>
<path class="m" d="M56.0 181.5 L57.0 212.0"/>
<path class="d" d="M71.1 204.1 L69.2 203.8 L67.4 203.3 L65.6 202.5 L63.9 201.5 L62.4 200.3 L61.0 198.9 L59.8 197.4 L58.8 195.7 L58.0 193.9 L57.4 192.0 L57.0 190.0 L56.9 188.0 L57.0 186.0 L57.4 184.0 L58.0 182.1 L58.8 180.3 L59.8 178.6 L61.0 177.1 L62.4 175.7 L63.9 174.5 L65.6 173.5 L67.4 172.7 L69.2 172.2 L71.1 171.9"/>
<path class="d" d="M65.9 206.2 L64.1 205.6 L62.4 204.8 L60.7 203.8 L59.2 202.6 L57.8 201.2 L56.5 199.8 L55.5 198.1 L54.5 196.4 L53.8 194.6 L53.3 192.7 L53.0 190.8 L52.9 188.8 L53.0 186.8 L53.3 184.9 L53.8 183.0 L54.5 181.2 L55.5 179.5 L56.5 177.8 L57.8 176.4 L59.2 175.0 L60.7 173.8 L62.4 172.8 L64.1 172.0 L65.9 171.4"/>
<path class="m" d="M61.9 207.6 L60.2 206.8 L58.6 205.8 L57.0 204.7 L55.6 203.4 L54.4 201.9 L53.2 200.4 L52.3 198.8 L51.5 197.0 L50.8 195.2 L50.4 193.3 L50.1 191.4 L50.0 189.5 L50.1 187.6 L50.4 185.7 L50.8 183.8 L51.5 182.0 L52.3 180.2 L53.2 178.6 L54.4 177.1 L55.6 175.6 L57.0 174.3 L58.6 173.2 L60.2 172.2 L61.9 171.4"/>
<path class="m" d="M53.9 171.0 L70.7 159.8"/>
<path class="m" d="M56.0 184.0 L57.0 214.0"/>
<path class="m" d="M65.8 210.0 L82.5 203.0 L85.3 210.0"/>
<path class="d" d="M550.3 278.3 L615.0 306.3 L617.6 303.6 L642.1 314.1 L642.1 317.6"/>
<path class="d" d="M550.3 278.3 L550.3 280.9 L616.8 309.8 L642.1 320.6 L642.1 317.6"/>
<path class="d" d="M615.0 306.3 L616.8 309.8"/>
<path class="d" d="M642.1 317.6 L653.5 312.4 L675.4 286.1"/>
<path class="d" d="M642.1 320.6 L654.4 315.0 L676.3 288.8 L675.4 286.1"/>
<path class="d" d="M562.5 252.9 L550.3 278.3 L567.8 284.9 L578.3 276.5"/>
<path class="d" d="M562.5 252.9 L578.3 276.5"/>
<path class="m" d="M564.3 258.1 L555.5 278.3"/>
<ellipse class="d" cx="558.1" cy="273.9" rx="1.0" ry="1.0" transform="rotate(0.0 558.1 273.9)"/>
<ellipse class="d" cx="561.6" cy="279.1" rx="1.0" ry="1.0" transform="rotate(0.0 561.6 279.1)"/>
<path class="d" d="M617.6 303.6 L636.0 297.5 L650.0 302.8 L642.1 314.1"/>
<path class="d" d="M622.0 304.5 L636.0 300.1 L645.6 303.6 L640.4 311.5 Z"/>
<path class="d" d="M636.0 297.5 L639.5 289.6 L646.5 282.6"/>
<path class="d" d="M650.0 302.8 L665.8 283.5"/>
<path class="m" d="M645.6 303.6 L661.4 284.4"/>
<path class="m" d="M642.1 297.5 L653.5 301.9"/>
<path class="m" d="M653.5 312.4 L650.0 302.8"/>
<path class="d" d="M574.8 259.0 C575.2 260.5 575.9 265.0 577.4 267.8 C578.8 270.5 581.0 273.4 583.5 275.6 C586.0 277.8 589.0 279.5 592.3 280.9 C595.5 282.2 601.0 283.4 602.8 283.9"/>
<path class="d" d="M579.1 258.1 C579.6 259.4 580.3 263.5 581.8 266.0 C583.2 268.5 585.5 271.1 587.9 273.0 C590.2 274.9 594.4 276.6 595.8 277.4"/>
<path class="d" d="M625.5 290.9 C627.3 290.4 633.4 289.2 636.0 287.9 C638.6 286.5 640.0 284.4 641.3 282.6 C642.5 280.9 643.0 278.3 643.4 277.4"/>
<path class="d" d="M627.3 293.1 C629.2 292.6 635.8 291.7 638.6 290.2 C641.5 288.6 643.6 286.2 644.4 283.9 C645.2 281.5 643.7 277.3 643.5 276.0"/>
<path class="m" d="M602.8 283.9 C604.8 285.0 611.2 289.7 615.0 290.9 C618.8 292.0 623.8 290.9 625.5 290.9"/>
<path class="d" d="M591.4 269.5 L636.0 273.0"/>
<path class="d" d="M591.4 271.6 L636.0 275.1"/>
<path class="d" d="M604.5 279.1 L617.6 284.4 L618.9 282.1 L605.9 277.0 Z"/>
<path class="m" d="M609.8 275.1 L622.0 279.3 L622.9 277.6 L610.8 273.5 Z"/>
<path class="d" d="M621.7 283.2 L625.9 284.9 L626.9 280.9 L623.1 279.3 Z"/>
<path class="d" d="M584.9 271.3 L585.6 277.4 L591.9 279.1 L591.9 273.0 Z"/>
<path class="m" d="M588.8 272.1 L589.1 278.3"/>
<ellipse class="d" cx="586.7" cy="261.1" rx="3.0" ry="3.0" transform="rotate(0.0 586.7 261.1)"/>
<path class="d" d="M587.0 262.5 L590.9 269.5"/>
<path class="l" d="M657.0 266.0 L674.5 271.3 L667.5 282.6 L650.0 277.4 Z"/>
<ellipse class="d" cx="692.0" cy="266.0" rx="4.6" ry="14.0" transform="rotate(12.0 692.0 266.0)"/>
<ellipse class="d" cx="693.0" cy="266.0" rx="1.8" ry="5.2" transform="rotate(12.0 693.0 266.0)"/>
<ellipse class="m" cx="693.0" cy="266.0" rx="2.6" ry="6.5" transform="rotate(12.0 693.0 266.0)"/>
<path class="d" d="M646.0 250.0 C649.7 249.8 661.0 248.7 668.0 249.0 C675.0 249.3 684.7 251.5 688.0 252.0"/>
<path class="d" d="M644.0 279.0 C647.3 279.7 657.0 282.8 664.0 283.0 C671.0 283.2 682.3 280.5 686.0 280.0"/>
<path class="m" d="M688.0 252.0 C686.7 253.0 681.7 255.3 680.0 258.0 C678.3 260.7 677.8 264.7 678.0 268.0 C678.2 271.3 679.7 276.0 681.0 278.0 C682.3 280.0 685.2 279.7 686.0 280.0"/>
<ellipse class="m" cx="630.0" cy="261.0" rx="6.0" ry="17.0" transform="rotate(12.0 630.0 261.0)"/>
<ellipse class="d" cx="634.0" cy="262.0" rx="6.0" ry="17.0" transform="rotate(12.0 634.0 262.0)"/>
<ellipse class="l" cx="627.0" cy="260.5" rx="5.0" ry="15.0" transform="rotate(12.0 627.0 260.5)"/>
<path class="m" d="M634.0 245.0 C635.0 245.3 638.0 246.2 640.0 247.0 C642.0 247.8 645.0 249.5 646.0 250.0"/>
<path class="m" d="M632.0 279.0 C633.0 279.2 636.0 280.0 638.0 280.0 C640.0 280.0 643.0 279.2 644.0 279.0"/>
<path class="m" d="M596.0 252.0 L626.0 250.0"/>
<path class="m" d="M597.0 268.0 L626.0 270.0"/>
<ellipse class="m" cx="612.0" cy="260.0" rx="3.0" ry="8.0" transform="rotate(10.0 612.0 260.0)"/>
<ellipse class="m" cx="617.0" cy="260.0" rx="3.0" ry="8.0" transform="rotate(10.0 617.0 260.0)"/>
<path class="d" d="M592.0 255.0 L612.0 252.0"/>
<path class="d" d="M593.0 265.0 L612.0 268.0"/>
<ellipse class="d" cx="637.0" cy="268.0" rx="3.5" ry="1.4" transform="rotate(-20.0 637.0 268.0)"/>
<ellipse class="d" cx="638.2" cy="265.7" rx="3.5" ry="1.4" transform="rotate(-20.0 638.2 265.7)"/>
<ellipse class="d" cx="639.4" cy="263.4" rx="3.5" ry="1.4" transform="rotate(-20.0 639.4 263.4)"/>
<ellipse class="d" cx="640.6" cy="261.1" rx="3.5" ry="1.4" transform="rotate(-20.0 640.6 261.1)"/>
<ellipse class="d" cx="634.0" cy="276.0" rx="3.0" ry="3.0" transform="rotate(0.0 634.0 276.0)"/>
<ellipse class="d" cx="634.0" cy="276.0" rx="1.6" ry="1.6" transform="rotate(0.0 634.0 276.0)"/>
<ellipse class="d" cx="581.0" cy="245.0" rx="13.0" ry="10.5" transform="rotate(28.0 581.0 245.0)"/>
<ellipse class="d" cx="581.0" cy="245.0" rx="10.0" ry="8.0" transform="rotate(28.0 581.0 245.0)"/>
<ellipse class="d" cx="582.0" cy="244.5" rx="8.0" ry="6.2" transform="rotate(28.0 582.0 244.5)"/>
<ellipse class="m" cx="583.0" cy="244.0" rx="6.0" ry="4.5" transform="rotate(28.0 583.0 244.0)"/>
<path class="d" d="M566.0 243.0 C566.7 240.8 568.0 233.7 570.0 230.0 C572.0 226.3 574.7 223.8 578.0 221.0 C581.3 218.2 585.0 215.2 590.0 213.5 C595.0 211.8 602.7 211.1 608.0 211.0 C613.3 210.9 617.3 212.1 622.0 213.0 C626.7 213.9 631.3 216.0 636.0 216.5 C640.7 217.0 645.3 216.3 650.0 216.0 C654.7 215.7 659.0 215.2 664.0 214.5 C669.0 213.8 674.3 212.2 680.0 211.5 C685.7 210.8 693.0 210.6 698.0 210.0 C703.0 209.4 708.0 208.3 710.0 208.0"/>
<path class="d" d="M566.0 243.0 C566.2 244.5 565.7 249.5 567.0 252.0 C568.3 254.5 571.2 256.8 574.0 258.0 C576.8 259.2 580.7 259.7 584.0 259.0 C587.3 258.3 592.3 254.8 594.0 254.0"/>
<path class="d" d="M569.0 233.0 C572.5 232.7 583.2 231.2 590.0 231.0 C596.8 230.8 601.7 231.8 610.0 232.0 C618.3 232.2 631.0 232.3 640.0 232.0 C649.0 231.7 656.7 231.2 664.0 230.0 C671.3 228.8 678.0 226.8 684.0 225.0 C690.0 223.2 697.3 220.0 700.0 219.0"/>
<path class="d" d="M594.0 251.0 C598.3 250.8 612.3 250.3 620.0 250.0 C627.7 249.7 633.3 249.4 640.0 249.0 C646.7 248.6 653.7 248.2 660.0 247.5 C666.3 246.8 671.7 246.2 678.0 245.0 C684.3 243.8 694.7 240.8 698.0 240.0"/>
<path class="m" d="M573.0 227.0 C574.2 226.5 577.2 224.2 580.0 224.0 C582.8 223.8 587.0 224.7 590.0 226.0 C593.0 227.3 596.7 231.0 598.0 232.0"/>
<path class="m" d="M590.0 213.5 C591.3 214.2 595.7 215.9 598.0 218.0 C600.3 220.1 602.7 223.0 604.0 226.0 C605.3 229.0 606.2 232.7 606.0 236.0 C605.8 239.3 603.5 244.3 603.0 246.0"/>
<path class="m" d="M578.0 221.0 C579.3 221.2 583.7 221.2 586.0 222.0 C588.3 222.8 591.0 225.3 592.0 226.0"/>
<ellipse class="d" cx="604.0" cy="211.0" rx="3.0" ry="1.6" transform="rotate(0.0 604.0 211.0)"/>
<path class="d" d="M601.0 211.0 L601.0 214.0"/>
<path class="d" d="M607.0 211.0 L607.0 214.0"/>
<ellipse class="m" cx="612.0" cy="213.0" rx="2.5" ry="1.4" transform="rotate(0.0 612.0 213.0)"/>
<path class="d" d="M603.0 240.0 L611.0 242.0 L611.0 247.0 L603.0 245.0 Z"/>
<path class="d" d="M604.5 241.5 L609.5 243.0 L609.5 246.0 L604.5 244.5 Z"/>
<path class="d" d="M640.0 235.0 L646.0 236.5 L646.0 241.0 L640.0 239.5 Z"/>
<ellipse class="d" cx="610.0" cy="233.5" rx="0.9" ry="0.9" transform="rotate(0.0 610.0 233.5)"/>
<ellipse class="d" cx="636.0" cy="232.0" rx="0.9" ry="0.9" transform="rotate(0.0 636.0 232.0)"/>
<ellipse class="d" cx="667.0" cy="246.5" rx="0.9" ry="0.9" transform="rotate(0.0 667.0 246.5)"/>
<ellipse class="d" cx="617.0" cy="249.5" rx="0.9" ry="0.9" transform="rotate(0.0 617.0 249.5)"/>
<ellipse class="d" cx="594.0" cy="262.0" rx="0.9" ry="0.9" transform="rotate(0.0 594.0 262.0)"/>
<path class="l" d="M610.0 222.0 C612.0 222.7 617.0 225.7 622.0 226.0 C627.0 226.3 633.7 224.7 640.0 224.0 C646.3 223.3 656.7 222.3 660.0 222.0"/>
<path class="l" d="M615.0 240.0 C617.5 239.3 624.2 236.3 630.0 236.0 C635.8 235.7 643.7 238.0 650.0 238.0 C656.3 238.0 665.0 236.3 668.0 236.0"/>
<path class="l" d="M650.0 216.0 C650.7 217.3 653.7 221.3 654.0 224.0 C654.3 226.7 652.3 230.7 652.0 232.0"/>
<path class="l" d="M672.0 214.0 C672.7 215.7 673.0 221.7 676.0 224.0 C679.0 226.3 687.7 227.3 690.0 228.0"/>
<path class="m" d="M586.0 222.0 C590.0 222.7 601.0 225.5 610.0 226.0 C619.0 226.5 630.0 225.7 640.0 225.0 C650.0 224.3 660.0 223.5 670.0 222.0 C680.0 220.5 695.0 217.0 700.0 216.0"/>
<path class="m" d="M598.0 240.0 C601.7 239.8 611.3 239.2 620.0 239.0 C628.7 238.8 640.0 239.5 650.0 239.0 C660.0 238.5 675.0 236.5 680.0 236.0"/>
<path class="m" d="M620.0 214.0 C621.0 215.7 625.3 220.3 626.0 224.0 C626.7 227.7 625.3 232.0 624.0 236.0 C622.7 240.0 619.0 246.0 618.0 248.0"/>
<path class="m" d="M646.0 217.0 C647.0 218.8 651.3 224.2 652.0 228.0 C652.7 231.8 651.2 236.7 650.0 240.0 C648.8 243.3 645.8 246.7 645.0 248.0"/>
<path class="m" d="M672.0 214.0 C673.0 215.7 677.3 220.3 678.0 224.0 C678.7 227.7 677.2 232.5 676.0 236.0 C674.8 239.5 671.8 243.5 671.0 245.0"/>
<ellipse class="m" cx="634.0" cy="238.0" rx="7.0" ry="10.0" transform="rotate(12.0 634.0 238.0)"/>
<ellipse class="l" cx="662.0" cy="232.0" rx="6.0" ry="9.0" transform="rotate(12.0 662.0 232.0)"/>
<path class="l" d="M606.0 216.0 L614.0 232.0"/>
<path class="l" d="M634.0 218.0 L644.0 234.0"/>
<path class="l" d="M660.0 218.0 L668.0 232.0"/>
<path class="l" d="M688.0 214.0 L694.0 226.0"/>
<path class="d" d="M572.0 250.0 C573.0 250.8 575.7 254.0 578.0 255.0 C580.3 256.0 584.7 255.8 586.0 256.0"/>
<ellipse class="d" cx="715.0" cy="236.5" rx="16.5" ry="14.5" transform="rotate(15.0 715.0 236.5)"/>
<ellipse class="d" cx="715.0" cy="236.5" rx="14.0" ry="12.0" transform="rotate(15.0 715.0 236.5)"/>
<ellipse class="d" cx="714.0" cy="237.0" rx="9.6" ry="8.3" transform="rotate(15.0 714.0 237.0)"/>
<ellipse class="d" cx="714.0" cy="237.0" rx="7.8" ry="6.6" transform="rotate(15.0 714.0 237.0)"/>
<ellipse class="d" cx="714.5" cy="237.0" rx="1.5" ry="1.5" transform="rotate(0.0 714.5 237.0)"/>
<path class="d" d="M707.0 208.0 C708.5 207.7 712.5 206.0 716.0 206.0 C719.5 206.0 724.5 206.8 728.0 208.0 C731.5 209.2 734.7 211.0 737.0 213.0 C739.3 215.0 740.7 217.2 742.0 220.0 C743.3 222.8 745.0 226.7 745.0 230.0 C745.0 233.3 743.7 237.3 742.0 240.0 C740.3 242.7 737.7 244.3 735.0 246.0 C732.3 247.7 727.5 249.3 726.0 250.0"/>
<path class="d" d="M712.0 211.0 C713.5 211.6 717.8 213.0 721.0 214.5 C724.2 216.0 728.9 217.6 731.5 220.0 C734.1 222.4 736.0 226.0 736.8 228.8 C737.6 231.6 737.1 234.5 736.5 237.0 C735.9 239.5 734.6 242.0 733.0 244.0 C731.4 246.0 728.0 248.2 727.0 249.0"/>
<path class="m" d="M708.0 215.0 C709.5 215.5 714.0 216.7 717.0 218.0 C720.0 219.3 723.7 220.8 726.0 223.0 C728.3 225.2 730.2 228.3 731.0 231.0 C731.8 233.7 731.7 236.5 731.0 239.0 C730.3 241.5 727.7 244.8 727.0 246.0"/>
<path class="d" d="M721.0 214.5 L725.5 207.6"/>
<path class="d" d="M727.0 217.3 L733.0 210.5"/>
<path class="d" d="M731.5 220.0 L738.0 214.5"/>
<path class="d" d="M735.0 225.0 L742.5 221.0"/>
<path class="d" d="M736.8 230.0 L745.0 228.5"/>
<path class="d" d="M736.8 236.0 L743.5 236.5"/>
<path class="d" d="M734.0 242.5 L739.5 243.5"/>
<path class="m" d="M700.0 219.0 C699.3 220.2 696.7 223.5 696.0 226.0 C695.3 228.5 695.5 231.2 696.0 234.0 C696.5 236.8 698.5 241.5 699.0 243.0"/>
<path class="d" d="M698.0 240.0 C698.7 241.2 700.0 245.2 702.0 247.0 C704.0 248.8 707.0 250.3 710.0 251.0 C713.0 251.7 718.3 251.0 720.0 251.0"/>
<path class="f" d="M567.5 132.5 L677.0 169.0 L672.0 185.0 L565.5 149.5 L556.0 151.5 L550.0 148.0 L540.0 139.0 L537.0 151.0 L527.0 151.0 L523.3 141.0 L523.3 132.0 L530.0 125.5 L536.0 123.5 L541.0 128.0 L552.0 131.5 L557.6 128.0 Z"/>
<path class="d" d="M567.5 132.5 L677.0 169.0"/>
<path class="d" d="M565.5 149.5 L672.0 185.0"/>
<path class="d" d="M677.0 169.0 C679.5 169.4 687.0 171.1 692.0 171.5 C697.0 171.9 704.5 171.5 707.0 171.5"/>
<path class="d" d="M672.0 185.0 C674.0 186.2 680.2 189.3 684.0 192.0 C687.8 194.7 692.8 199.5 694.5 201.0"/>
<path class="m" d="M677.0 169.0 L672.0 185.0"/>
<path class="m" d="M679.0 169.5 L674.0 186.5"/>
<path class="d" d="M602.5 155.3 L607.7 157.1 L605.1 164.7 L599.9 162.9 Z"/>
<path class="d" d="M612.1 158.5 L617.3 160.3 L614.7 167.9 L609.5 166.1 Z"/>
<path class="d" d="M621.7 161.7 L626.9 163.5 L624.3 171.1 L619.1 169.3 Z"/>
<path class="d" d="M631.3 164.9 L636.5 166.7 L633.9 174.3 L628.7 172.5 Z"/>
<path class="d" d="M640.9 168.1 L646.1 169.9 L643.5 177.5 L638.3 175.7 Z"/>
<path class="d" d="M650.5 171.3 L655.7 173.1 L653.1 180.7 L647.9 178.9 Z"/>
<path class="l" d="M607.6 148.4 L612.3 149.9 L610.4 155.6 L605.7 154.1 Z"/>
<path class="l" d="M617.2 151.6 L621.9 153.1 L620.0 158.8 L615.3 157.3 Z"/>
<path class="l" d="M626.8 154.8 L631.5 156.3 L629.6 162.0 L624.9 160.5 Z"/>
<path class="l" d="M636.4 158.0 L641.1 159.5 L639.2 165.2 L634.5 163.7 Z"/>
<path class="l" d="M646.0 161.2 L650.7 162.7 L648.8 168.4 L644.1 166.9 Z"/>
<path class="d" d="M579.6 136.1 L585.7 138.2 L582.4 142.9 L576.3 140.8 Z"/>
<path class="d" d="M601.1 143.2 L607.2 145.3 L603.9 150.0 L597.8 147.9 Z"/>
<path class="d" d="M622.6 150.3 L628.7 152.4 L625.4 157.1 L619.3 155.0 Z"/>
<path class="d" d="M644.1 157.4 L650.2 159.5 L646.9 164.2 L640.8 162.1 Z"/>
<path class="d" d="M665.6 164.5 L671.7 166.6 L668.4 171.3 L662.3 169.2 Z"/>
<path class="d" d="M550.6 147.9 L550.2 147.9 L549.9 147.8 L549.5 147.5 L549.2 147.1 L548.9 146.4 L548.7 145.7 L548.6 144.7 L548.5 143.7 L548.4 142.6 L548.4 141.4 L548.5 140.2 L548.7 138.9 L548.9 137.7 L549.1 136.5 L549.4 135.4 L549.7 134.4 L550.1 133.5 L550.5 132.7 L550.9 132.1 L551.3 131.6 L551.7 131.3 L552.1 131.3 L552.5 131.4 L552.9 131.6"/>
<path class="d" d="M555.5 151.3 L555.0 151.4 L554.4 151.3 L554.0 150.9 L553.5 150.2 L553.2 149.3 L552.9 148.2 L552.6 146.9 L552.5 145.5 L552.4 143.9 L552.5 142.2 L552.6 140.5 L552.8 138.8 L553.1 137.0 L553.4 135.4 L553.8 133.8 L554.3 132.4 L554.8 131.1 L555.3 130.0 L555.9 129.1 L556.5 128.5 L557.1 128.1 L557.6 128.0 L558.1 128.1 L558.6 128.5"/>
<path class="m" d="M557.2 151.7 L556.7 151.7 L556.2 151.4 L555.8 150.9 L555.4 150.2 L555.0 149.3 L554.8 148.2 L554.6 146.9 L554.5 145.5 L554.4 144.0 L554.5 142.4 L554.6 140.7 L554.8 139.1 L555.1 137.4 L555.4 135.8 L555.8 134.3 L556.2 132.9 L556.7 131.7 L557.2 130.6 L557.7 129.7 L558.3 129.0 L558.8 128.5 L559.3 128.3 L559.9 128.3 L560.3 128.5"/>
<path class="d" d="M561.9 149.2 L561.3 149.3 L560.9 149.2 L560.4 148.8 L560.0 148.3 L559.6 147.5 L559.3 146.5 L559.1 145.4 L559.0 144.2 L558.9 142.8 L558.9 141.3 L559.0 139.9 L559.2 138.3 L559.4 136.9 L559.7 135.4 L560.1 134.1 L560.5 132.8 L561.0 131.7 L561.5 130.8 L562.0 130.0 L562.6 129.5 L563.1 129.2 L563.6 129.1 L564.1 129.2 L564.6 129.5"/>
<path class="d" d="M552.3 131.3 C552.7 130.9 553.6 129.4 554.5 128.8 C555.4 128.2 556.5 128.1 557.6 128.0 C558.7 127.9 559.9 128.1 561.0 128.3 C562.1 128.5 563.2 128.8 564.0 129.2 C564.8 129.6 565.4 130.2 566.0 131.0 C566.6 131.8 567.2 133.5 567.5 134.0"/>
<path class="d" d="M550.0 148.0 C550.3 148.4 551.2 149.9 552.0 150.5 C552.8 151.1 554.0 151.2 555.0 151.3 C556.0 151.4 557.0 151.3 558.0 151.0 C559.0 150.7 560.1 149.6 561.0 149.5 C561.9 149.4 563.0 150.3 563.4 150.5"/>
<path class="d" d="M541.0 130.4 L552.0 132.8"/>
<path class="d" d="M539.6 138.2 L548.2 142.5"/>
<ellipse class="d" cx="528.9" cy="135.0" rx="5.7" ry="6.0" transform="rotate(0.0 528.9 135.0)"/>
<ellipse class="d" cx="528.9" cy="135.0" rx="4.0" ry="4.3" transform="rotate(0.0 528.9 135.0)"/>
<ellipse class="d" cx="528.9" cy="135.0" rx="2.4" ry="2.6" transform="rotate(0.0 528.9 135.0)"/>
<path class="k" d="M530.0 125.5 C530.4 125.2 531.6 124.1 532.5 123.8 C533.4 123.5 534.5 123.3 535.5 123.5 C536.5 123.7 537.9 124.2 538.8 125.0 C539.7 125.8 540.6 127.8 541.0 128.4"/>
<path class="d" d="M526.0 130.0 C526.3 129.5 527.3 127.8 528.0 127.0 C528.7 126.2 529.7 125.8 530.0 125.5"/>
<path class="d" d="M541.0 128.4 C541.0 129.3 541.5 132.1 541.3 134.0 C541.1 135.9 540.4 138.4 540.0 140.0 C539.6 141.6 539.0 142.9 538.8 143.5"/>
<path class="m" d="M537.0 125.0 C537.2 126.0 538.4 128.7 538.5 131.0 C538.6 133.3 537.7 137.7 537.5 139.0"/>
<path class="d" d="M534.5 137.0 C534.8 137.7 535.3 139.9 536.0 141.0 C536.7 142.1 538.3 143.1 538.8 143.5"/>
<path class="d" d="M523.3 137.0 C523.3 137.7 523.2 139.8 523.5 141.0 C523.8 142.2 524.8 143.5 525.0 144.0"/>
<path class="d" d="M536.1 145.7 L536.1 146.1 L535.9 146.4 L535.7 146.8 L535.2 147.0 L534.7 147.3 L534.0 147.4 L533.3 147.5 L532.5 147.5 L531.6 147.4 L530.7 147.3 L529.7 147.1 L528.8 146.9 L527.9 146.6 L527.0 146.2 L526.3 145.8 L525.6 145.4 L525.0 144.9 L524.5 144.5 L524.2 144.0 L523.9 143.6 L523.9 143.2 L523.9 142.8 L524.2 142.4 L524.5 142.1"/>
<path class="k" d="M536.4 148.2 L536.4 148.6 L536.2 149.0 L535.9 149.4 L535.5 149.7 L534.9 149.9 L534.2 150.1 L533.4 150.2 L532.6 150.2 L531.6 150.1 L530.7 150.0 L529.7 149.8 L528.7 149.5 L527.8 149.2 L526.9 148.8 L526.1 148.4 L525.3 148.0 L524.7 147.5 L524.2 147.0 L523.9 146.5 L523.7 146.0 L523.6 145.6 L523.7 145.2 L523.9 144.8 L524.3 144.5"/>
<path class="d" d="M536.4 150.7 L536.4 151.1 L536.2 151.4 L536.0 151.8 L535.5 152.0 L535.0 152.3 L534.3 152.4 L533.6 152.5 L532.8 152.5 L531.9 152.4 L531.0 152.3 L530.0 152.1 L529.1 151.9 L528.2 151.6 L527.3 151.2 L526.6 150.8 L525.9 150.4 L525.3 149.9 L524.8 149.5 L524.5 149.0 L524.2 148.6 L524.2 148.2 L524.2 147.8 L524.5 147.4 L524.8 147.1"/>
<path class="d" d="M535.6 152.3 L535.6 152.6 L535.5 152.9 L535.3 153.2 L534.9 153.4 L534.5 153.6 L533.9 153.7 L533.3 153.8 L532.6 153.8 L531.9 153.8 L531.1 153.7 L530.4 153.5 L529.6 153.3 L528.9 153.0 L528.2 152.7 L527.5 152.4 L526.9 152.1 L526.4 151.7 L526.1 151.3 L525.8 150.9 L525.6 150.6 L525.5 150.2 L525.6 149.9 L525.8 149.6 L526.1 149.3"/>
<path class="d" d="M523.6 145.5 L524.0 150.0"/>
<path class="d" d="M536.3 146.0 L536.3 151.0"/>
<path class="d" d="M707.0 171.0 L717.5 167.5 L732.5 172.0"/>
<path class="d" d="M707.0 171.0 L691.0 201.0"/>
<path class="d" d="M710.0 172.0 L694.0 203.0"/>
<path class="m" d="M713.0 172.0 L697.0 204.0"/>
<path class="d" d="M728.0 174.0 L717.0 206.0"/>
<path class="d" d="M732.5 172.0 L721.0 203.0"/>
<path class="m" d="M725.0 173.0 L714.0 205.0"/>
<path class="d" d="M691.0 201.0 L697.0 204.0 L717.0 206.0 L721.0 203.0"/>
<path class="d" d="M710.0 172.0 L725.0 173.0"/>
<path class="m" d="M717.5 167.5 L718.0 170.0"/>
<path class="d" d="M716.5 166.0 L720.0 165.5 L720.5 169.0"/>
<path class="d" d="M730.0 170.0 L733.0 169.5 L733.5 173.0"/>
<ellipse class="d" cx="717.5" cy="182.0" rx="3.6" ry="3.2" transform="rotate(0.0 717.5 182.0)"/>
<path class="d" d="M706.0 188.0 L722.0 192.0"/>
<path class="m" d="M708.0 184.0 L716.0 196.0"/>
<path class="m" d="M718.0 186.0 L708.0 196.0"/>
<ellipse class="d" cx="712.0" cy="195.0" rx="1.8" ry="1.8" transform="rotate(0.0 712.0 195.0)"/>
<path class="m" d="M704.0 192.0 L698.0 204.0"/>
<path class="m" d="M722.0 192.0 L718.0 204.0"/>
<path class="d" d="M688.0 213.0 L690.0 214.0"/>
<path class="d" d="M689.1 211.1 L691.1 212.1"/>
<path class="d" d="M690.2 209.2 L692.2 210.2"/>
<path class="d" d="M691.3 207.3 L693.3 208.3"/>
<path class="d" d="M692.4 205.4 L694.4 206.4"/>
<path class="d" d="M693.5 203.5 L695.5 204.5"/>
<path class="d" d="M694.6 201.6 L696.6 202.6"/>
<path class="d" d="M695.7 199.7 L697.7 200.7"/>
<path class="d" d="M696.8 197.8 L698.8 198.8"/>
<path class="d" d="M687.0 213.0 L697.0 196.0"/>
<path class="d" d="M690.0 215.0 L700.0 198.0"/>
<path class="d" d="M731.0 177.0 L750.0 184.0 L744.5 203.5 L725.0 197.0 Z"/>
<path class="d" d="M730.2 179.5 L749.3 186.4"/>
<path class="d" d="M729.5 182.0 L748.6 188.9"/>
<path class="d" d="M728.8 184.5 L747.9 191.3"/>
<path class="d" d="M728.0 187.0 L747.2 193.8"/>
<path class="d" d="M727.2 189.5 L746.6 196.2"/>
<path class="d" d="M726.5 192.0 L745.9 198.6"/>
<path class="d" d="M725.8 194.5 L745.2 201.1"/>
<path class="d" d="M750.0 184.0 L752.5 185.0 L747.0 204.5 L744.5 203.5"/>
<path class="m" d="M734.0 174.5 L751.0 181.0 L750.0 184.0"/>
<path class="m" d="M717.0 206.0 L724.0 209.0 L734.0 208.0"/>
<path class="d" d="M721.0 203.0 L728.0 206.0 L738.0 206.0"/>
<path class="m" d="M725.0 197.0 L730.0 201.0 L728.0 206.0"/>
<path class="m" d="M747.0 185.0 L754.0 187.5"/>
<path class="m" d="M747.9 188.9 L753.9 191.2"/>
<path class="m" d="M748.8 192.8 L753.8 194.9"/>
<path class="m" d="M749.7 196.7 L753.7 198.6"/>
<path class="m" d="M750.6 200.6 L753.6 202.3"/>
<path class="m" d="M752.5 185.0 L755.0 186.5 L749.5 205.5 L747.0 204.5"/>
<path class="m" d="M700.0 203.0 L706.0 207.5 L716.0 210.0"/>
<path class="d" d="M397.0 501.0 L426.0 518.0 L478.0 552.0 L510.0 566.0 L532.0 544.0"/>
<path class="d" d="M397.0 501.0 L397.0 504.6 L426.0 522.0 L478.0 556.0 L510.0 570.0 L533.0 547.4 L532.0 544.0"/>
<path class="d" d="M426.0 518.0 L426.0 522.0"/>
<path class="d" d="M478.0 552.0 L478.0 556.0"/>
<path class="d" d="M510.0 566.0 L510.0 570.0"/>
<path class="d" d="M408.0 484.0 L397.0 501.0 L419.0 513.0 L416.0 495.0"/>
<path class="d" d="M408.0 484.0 L416.0 495.0"/>
<path class="m" d="M410.0 490.0 L402.0 502.0"/>
<ellipse class="d" cx="409.0" cy="494.0" rx="1.1" ry="1.1" transform="rotate(0.0 409.0 494.0)"/>
<ellipse class="d" cx="412.0" cy="502.0" rx="1.1" ry="1.1" transform="rotate(0.0 412.0 502.0)"/>
<ellipse class="d" cx="402.0" cy="499.0" rx="1.0" ry="1.0" transform="rotate(0.0 402.0 499.0)"/>
<path class="d" d="M427.0 511.0 L427.0 520.0 L436.0 525.0 L439.0 520.0 L439.0 514.0 L432.0 509.4 Z"/>
<path class="m" d="M432.0 509.4 L432.4 518.0 L427.0 520.0"/>
<path class="m" d="M432.4 518.0 L439.0 520.0"/>
<path class="m" d="M435.0 511.4 L435.2 519.4"/>
<path class="d" d="M438.0 516.0 L486.0 532.0"/>
<path class="d" d="M440.0 521.4 L484.0 537.0"/>
<path class="d" d="M451.0 532.0 L469.0 538.6 L470.4 535.4 L452.8 529.0 Z"/>
<ellipse class="d" cx="461.6" cy="532.6" rx="7.0" ry="2.4" transform="rotate(18.0 461.6 532.6)"/>
<path class="d" d="M471.0 540.6 L477.6 543.4 L478.0 547.4 L471.6 544.6 Z"/>
<path class="m" d="M474.0 541.8 L474.2 545.8"/>
<path class="m" d="M450.0 535.0 L468.0 542.0 L468.0 544.0 L450.0 537.0 Z"/>
<path class="d" d="M480.0 548.0 L507.0 536.0 L502.0 557.0 Z"/>
<path class="m" d="M484.0 547.4 L504.0 539.0 L500.4 554.0 Z"/>
<path class="d" d="M507.0 536.0 L518.0 523.0"/>
<path class="d" d="M510.0 566.0 L507.0 556.0 L526.0 535.0"/>
<path class="m" d="M502.0 557.0 L510.0 566.0"/>
<path class="m" d="M512.0 559.0 L528.0 540.0"/>
<path class="m" d="M515.0 551.0 L522.0 555.0"/>
<path class="m" d="M484.0 551.4 L486.0 549.4"/>
<path class="m" d="M487.6 553.0 L489.6 551.0"/>
<path class="m" d="M491.2 554.6 L493.2 552.6"/>
<path class="m" d="M494.8 556.2 L496.8 554.2"/>
<path class="m" d="M498.4 557.8 L500.4 555.8"/>
<ellipse class="d" cx="489.6" cy="536.6" rx="5.0" ry="5.5" transform="rotate(0.0 489.6 536.6)"/>
<ellipse class="d" cx="489.6" cy="536.6" rx="3.0" ry="3.4" transform="rotate(0.0 489.6 536.6)"/>
<path class="d" d="M486.0 532.0 L494.0 528.0"/>
<path class="d" d="M492.4 541.4 L499.6 536.0"/>
<path class="m" d="M487.4 534.0 L495.2 529.8"/>
<path class="m" d="M488.8 536.0 L496.4 531.6"/>
<path class="m" d="M490.2 538.0 L497.6 533.4"/>
<path class="m" d="M491.6 540.0 L498.8 535.2"/>
<ellipse class="d" cx="497.0" cy="532.0" rx="5.0" ry="5.5" transform="rotate(0.0 497.0 532.0)"/>
<ellipse class="m" cx="493.0" cy="524.6" rx="3.6" ry="1.5" transform="rotate(-20.0 493.0 524.6)"/>
<ellipse class="m" cx="494.2" cy="521.8" rx="3.6" ry="1.5" transform="rotate(-20.0 494.2 521.8)"/>
<ellipse class="m" cx="495.4" cy="519.0" rx="3.6" ry="1.5" transform="rotate(-20.0 495.4 519.0)"/>
<ellipse class="m" cx="496.6" cy="516.2" rx="3.6" ry="1.5" transform="rotate(-20.0 496.6 516.2)"/>
<path class="d" d="M440.0 497.0 C440.5 499.3 441.3 506.7 443.0 511.0 C444.7 515.3 446.8 519.5 450.0 523.0 C453.2 526.5 460.0 530.5 462.0 532.0"/>
<path class="m" d="M446.0 496.0 C446.5 498.2 447.3 505.0 449.0 509.0 C450.7 513.0 453.0 516.9 456.0 520.0 C459.0 523.1 465.2 526.2 467.0 527.4"/>
<path class="l" d="M518.0 523.0 L542.0 533.0 L530.0 547.0"/>
<ellipse class="d" cx="562.0" cy="541.0" rx="5.5" ry="15.0" transform="rotate(20.0 562.0 541.0)"/>
<ellipse class="d" cx="563.0" cy="541.0" rx="2.2" ry="5.5" transform="rotate(20.0 563.0 541.0)"/>
<ellipse class="m" cx="563.0" cy="541.0" rx="3.2" ry="7.2" transform="rotate(20.0 563.0 541.0)"/>
<path class="d" d="M500.0 498.0 C505.0 500.3 518.8 507.2 530.0 512.0 C541.2 516.8 560.8 524.5 567.0 527.0"/>
<path class="d" d="M480.0 528.0 C485.8 531.3 502.3 543.3 515.0 548.0 C527.7 552.7 549.2 554.7 556.0 556.0"/>
<path class="m" d="M567.0 527.0 C565.3 528.2 559.3 531.0 557.0 534.0 C554.7 537.0 553.5 541.8 553.0 545.0 C552.5 548.2 553.5 551.2 554.0 553.0 C554.5 554.8 555.7 555.5 556.0 556.0"/>
<ellipse class="m" cx="474.0" cy="505.0" rx="8.0" ry="19.0" transform="rotate(20.0 474.0 505.0)"/>
<ellipse class="d" cx="479.0" cy="507.0" rx="8.0" ry="19.0" transform="rotate(20.0 479.0 507.0)"/>
<ellipse class="l" cx="470.0" cy="503.0" rx="7.0" ry="17.0" transform="rotate(20.0 470.0 503.0)"/>
<path class="m" d="M482.0 489.0 C483.7 489.7 489.0 491.5 492.0 493.0 C495.0 494.5 498.7 497.2 500.0 498.0"/>
<ellipse class="l" cx="505.0" cy="514.0" rx="7.0" ry="18.0" transform="rotate(20.0 505.0 514.0)"/>
<ellipse class="l" cx="510.0" cy="516.0" rx="7.0" ry="18.0" transform="rotate(20.0 510.0 516.0)"/>
<path class="m" d="M436.0 494.0 L468.0 494.0"/>
<path class="m" d="M440.0 512.0 L468.0 517.0"/>
<ellipse class="d" cx="424.0" cy="482.0" rx="18.5" ry="12.5" transform="rotate(28.0 424.0 482.0)"/>
<ellipse class="d" cx="424.0" cy="482.0" rx="15.0" ry="9.8" transform="rotate(28.0 424.0 482.0)"/>
<ellipse class="d" cx="425.5" cy="481.5" rx="11.5" ry="7.2" transform="rotate(28.0 425.5 481.5)"/>
<ellipse class="m" cx="427.0" cy="481.0" rx="8.5" ry="5.0" transform="rotate(28.0 427.0 481.0)"/>
<path class="d" d="M404.0 474.5 C404.7 472.8 406.2 467.2 408.0 464.0 C409.8 460.8 411.7 459.8 414.5 455.5 C417.3 451.2 421.5 442.2 425.0 438.0 C428.5 433.8 431.2 431.5 435.5 430.0 C439.8 428.5 446.3 427.4 451.0 429.0 C455.7 430.6 459.7 437.2 463.5 439.5 C467.3 441.8 468.8 440.3 474.0 443.0 C479.2 445.7 485.7 451.7 495.0 455.5 C504.3 459.3 519.2 462.6 530.0 466.0 C540.8 469.4 550.0 473.0 560.0 476.0 C570.0 479.0 585.0 482.7 590.0 484.0"/>
<path class="d" d="M404.0 474.5 C404.2 476.1 404.0 481.2 405.0 484.0 C406.0 486.8 407.5 489.0 410.0 491.0 C412.5 493.0 416.3 495.2 420.0 496.0 C423.7 496.8 428.5 496.8 432.0 496.0 C435.5 495.2 439.5 491.8 441.0 491.0"/>
<path class="d" d="M416.0 453.0 C420.0 454.5 431.0 458.5 440.0 462.0 C449.0 465.5 460.0 470.3 470.0 474.0 C480.0 477.7 490.0 480.7 500.0 484.0 C510.0 487.3 521.3 490.7 530.0 494.0 C538.7 497.3 548.3 502.3 552.0 504.0"/>
<path class="d" d="M441.0 491.0 C445.8 492.0 460.2 495.0 470.0 497.0 C479.8 499.0 490.0 500.7 500.0 503.0 C510.0 505.3 520.7 507.8 530.0 511.0 C539.3 514.2 551.7 520.2 556.0 522.0"/>
<path class="m" d="M425.0 438.0 C426.5 438.3 431.2 438.5 434.0 440.0 C436.8 441.5 440.0 444.0 442.0 447.0 C444.0 450.0 445.7 454.2 446.0 458.0 C446.3 461.8 444.3 468.0 444.0 470.0"/>
<path class="m" d="M414.5 455.5 C416.1 454.9 420.4 451.9 424.0 452.0 C427.6 452.1 432.7 454.0 436.0 456.0 C439.3 458.0 442.7 462.7 444.0 464.0"/>
<path class="d" d="M418.0 448.0 L432.0 446.0 L434.0 452.0 L420.0 454.0 Z"/>
<path class="m" d="M421.0 449.0 L425.0 448.5 L426.0 453.0 L422.0 453.5 Z"/>
<path class="d" d="M458.0 424.0 L462.0 418.0 L470.0 418.0 L474.0 424.0 L474.0 438.0"/>
<path class="d" d="M458.0 424.0 L459.0 437.0"/>
<path class="m" d="M461.2 422.0 L462.0 438.0"/>
<path class="m" d="M464.4 422.0 L465.0 438.0"/>
<path class="m" d="M467.6 423.0 L468.0 438.0"/>
<path class="m" d="M470.8 423.0 L471.0 438.0"/>
<ellipse class="m" cx="466.0" cy="420.5" rx="7.5" ry="3.0" transform="rotate(10.0 466.0 420.5)"/>
<path class="d" d="M477.5 441.0 L480.0 433.0 L491.0 438.0 L489.0 446.0"/>
<path class="m" d="M495.0 446.0 L497.0 440.0 L504.0 443.0 L502.0 449.0"/>
<path class="d" d="M518.0 462.0 L520.0 454.5 L528.0 458.0 L527.0 465.0"/>
<path class="d" d="M492.0 447.0 C492.7 446.2 494.3 442.7 496.0 442.0 C497.7 441.3 500.7 441.7 502.0 443.0 C503.3 444.3 503.7 448.8 504.0 450.0"/>
<ellipse class="d" cx="451.0" cy="481.0" rx="1.0" ry="1.0" transform="rotate(0.0 451.0 481.0)"/>
<ellipse class="d" cx="467.0" cy="487.0" rx="1.0" ry="1.0" transform="rotate(0.0 467.0 487.0)"/>
<ellipse class="d" cx="483.0" cy="468.5" rx="1.0" ry="1.0" transform="rotate(0.0 483.0 468.5)"/>
<ellipse class="d" cx="496.0" cy="497.5" rx="1.0" ry="1.0" transform="rotate(0.0 496.0 497.5)"/>
<ellipse class="d" cx="520.0" cy="486.5" rx="1.0" ry="1.0" transform="rotate(0.0 520.0 486.5)"/>
<ellipse class="d" cx="462.0" cy="500.0" rx="1.0" ry="1.0" transform="rotate(0.0 462.0 500.0)"/>
<path class="d" d="M447.0 486.0 L456.0 492.0 L454.0 484.0 Z"/>
<path class="m" d="M492.0 494.0 L498.0 506.0 L500.0 496.0 Z"/>
<path class="l" d="M445.0 445.0 C449.2 447.2 460.8 454.2 470.0 458.0 C479.2 461.8 490.0 464.3 500.0 468.0 C510.0 471.7 525.0 478.0 530.0 480.0"/>
<path class="l" d="M450.0 470.0 C455.0 471.7 470.0 476.7 480.0 480.0 C490.0 483.3 500.0 486.7 510.0 490.0 C520.0 493.3 535.0 498.3 540.0 500.0"/>
<path class="l" d="M470.0 445.0 C471.0 447.5 475.3 454.5 476.0 460.0 C476.7 465.5 474.3 475.0 474.0 478.0"/>
<path class="l" d="M505.0 460.0 C505.8 462.3 509.8 468.7 510.0 474.0 C510.2 479.3 506.7 489.0 506.0 492.0"/>
<path class="l" d="M540.0 470.0 C541.0 472.3 546.0 479.0 546.0 484.0 C546.0 489.0 541.0 497.3 540.0 500.0"/>
<ellipse class="l" cx="540.0" cy="488.0" rx="12.0" ry="16.0" transform="rotate(20.0 540.0 488.0)"/>
<ellipse class="l" cx="500.0" cy="480.0" rx="10.0" ry="14.0" transform="rotate(20.0 500.0 480.0)"/>
<path class="m" d="M430.0 440.0 C433.3 442.0 441.7 448.3 450.0 452.0 C458.3 455.7 470.0 458.7 480.0 462.0 C490.0 465.3 500.0 468.7 510.0 472.0 C520.0 475.3 530.0 479.0 540.0 482.0 C550.0 485.0 565.0 488.7 570.0 490.0"/>
<path class="m" d="M436.0 470.0 C440.0 471.3 451.0 475.2 460.0 478.0 C469.0 480.8 480.0 483.8 490.0 487.0 C500.0 490.2 510.3 493.5 520.0 497.0 C529.7 500.5 543.3 506.2 548.0 508.0"/>
<path class="m" d="M455.0 432.0 C456.2 434.3 461.2 441.0 462.0 446.0 C462.8 451.0 461.7 457.3 460.0 462.0 C458.3 466.7 453.3 472.0 452.0 474.0"/>
<path class="m" d="M490.0 452.0 C491.2 454.3 496.2 461.0 497.0 466.0 C497.8 471.0 496.5 477.3 495.0 482.0 C493.5 486.7 489.2 492.0 488.0 494.0"/>
<path class="m" d="M524.0 466.0 C525.2 468.3 530.2 475.0 531.0 480.0 C531.8 485.0 530.5 491.3 529.0 496.0 C527.5 500.7 523.2 506.0 522.0 508.0"/>
<path class="m" d="M556.0 480.0 C557.0 482.0 561.3 487.7 562.0 492.0 C562.7 496.3 560.3 503.7 560.0 506.0"/>
<ellipse class="m" cx="470.0" cy="466.0" rx="8.0" ry="12.0" transform="rotate(20.0 470.0 466.0)"/>
<ellipse class="m" cx="516.0" cy="482.0" rx="9.0" ry="13.0" transform="rotate(20.0 516.0 482.0)"/>
<path class="l" d="M440.0 452.0 L452.0 470.0"/>
<path class="l" d="M470.0 448.0 L486.0 474.0"/>
<path class="l" d="M500.0 470.0 L514.0 496.0"/>
<path class="l" d="M534.0 476.0 L548.0 502.0"/>
<path class="l" d="M476.0 466.0 L500.0 458.0"/>
<path class="l" d="M508.0 486.0 L536.0 476.0"/>
<path class="l" d="M446.0 484.0 L470.0 476.0"/>
<path class="d" d="M441.0 491.0 C442.5 492.5 446.5 497.5 450.0 500.0 C453.5 502.5 460.0 505.0 462.0 506.0"/>
<path class="m" d="M556.0 522.0 C556.7 523.3 558.3 527.7 560.0 530.0 C561.7 532.3 565.0 535.0 566.0 536.0"/>
<ellipse class="d" cx="582.0" cy="520.0" rx="20.5" ry="17.5" transform="rotate(20.0 582.0 520.0)"/>
<ellipse class="d" cx="582.0" cy="520.0" rx="17.5" ry="14.5" transform="rotate(20.0 582.0 520.0)"/>
<ellipse class="d" cx="581.0" cy="521.0" rx="12.0" ry="10.0" transform="rotate(20.0 581.0 521.0)"/>
<ellipse class="d" cx="581.0" cy="521.0" rx="9.5" ry="7.8" transform="rotate(20.0 581.0 521.0)"/>
<ellipse class="d" cx="581.5" cy="521.0" rx="2.0" ry="2.0" transform="rotate(0.0 581.5 521.0)"/>
<path class="d" d="M590.0 484.0 C592.3 484.7 599.7 486.0 604.0 488.0 C608.3 490.0 613.0 492.7 616.0 496.0 C619.0 499.3 621.0 504.0 622.0 508.0 C623.0 512.0 623.0 516.3 622.0 520.0 C621.0 523.7 618.7 527.3 616.0 530.0 C613.3 532.7 609.3 534.5 606.0 536.0 C602.7 537.5 597.7 538.5 596.0 539.0"/>
<path class="d" d="M586.0 490.0 C588.0 490.7 594.5 492.2 598.0 494.0 C601.5 495.8 604.6 497.8 607.0 500.5 C609.4 503.2 611.6 506.6 612.5 510.0 C613.4 513.4 613.2 517.7 612.5 521.0 C611.8 524.3 609.9 527.5 608.0 530.0 C606.1 532.5 602.2 535.0 601.0 536.0"/>
<path class="m" d="M581.0 495.0 C582.8 495.6 588.7 496.8 592.0 498.5 C595.3 500.2 598.7 502.5 601.0 505.0 C603.3 507.5 605.2 510.5 606.0 513.5 C606.8 516.5 606.8 520.1 606.0 523.0 C605.2 525.9 602.2 529.7 601.5 531.0"/>
<path class="d" d="M591.0 491.5 L596.0 485.8"/>
<path class="d" d="M598.0 494.0 L604.0 488.0"/>
<path class="d" d="M603.5 497.5 L610.5 491.5"/>
<path class="d" d="M608.5 503.0 L616.5 497.0"/>
<path class="d" d="M611.5 508.0 L620.0 503.5"/>
<path class="d" d="M612.7 514.0 L622.0 512.0"/>
<path class="d" d="M612.5 520.5 L621.5 521.0"/>
<path class="d" d="M610.5 527.0 L618.0 528.0"/>
<path class="d" d="M606.5 532.0 L612.0 533.5"/>
<path class="m" d="M560.0 497.0 C559.3 498.5 556.5 502.8 556.0 506.0 C555.5 509.2 556.0 512.7 557.0 516.0 C558.0 519.3 561.2 524.3 562.0 526.0"/>
<path class="f" d="M400.0 338.0 L536.0 404.0 L578.0 413.5 L553.5 450.0 L532.0 428.0 L390.0 359.0 L381.0 359.0 L375.0 354.0 L364.5 341.0 L359.0 350.0 L347.0 353.0 L341.0 342.0 L340.5 328.0 L349.0 321.0 L356.0 316.0 L363.0 319.0 L366.6 327.0 L376.0 332.0 L383.0 327.5 L395.0 331.0 Z"/>
<path class="d" d="M400.0 339.0 L536.0 404.0"/>
<path class="d" d="M390.0 358.0 L532.0 428.0"/>
<path class="d" d="M536.0 404.0 C539.3 405.1 549.0 408.9 556.0 410.5 C563.0 412.1 574.3 413.0 578.0 413.5"/>
<path class="d" d="M532.0 428.0 C534.0 429.7 540.4 434.3 544.0 438.0 C547.6 441.7 551.9 448.0 553.5 450.0"/>
<path class="m" d="M536.0 404.0 L527.0 426.0"/>
<path class="m" d="M538.5 405.0 L529.5 427.5"/>
<path class="d" d="M408.9 343.5 L416.6 347.2 L411.1 354.5 L403.4 350.8 Z"/>
<path class="d" d="M436.8 356.9 L444.5 360.6 L439.0 367.9 L431.3 364.2 Z"/>
<path class="d" d="M464.7 370.3 L472.4 374.0 L466.9 381.3 L459.2 377.6 Z"/>
<path class="d" d="M492.6 383.7 L500.3 387.4 L494.8 394.7 L487.1 391.0 Z"/>
<path class="d" d="M520.5 397.1 L528.2 400.8 L522.7 408.1 L515.0 404.4 Z"/>
<path class="d" d="M437.7 375.1 L443.6 377.9 L439.3 386.9 L433.4 384.1 Z"/>
<path class="d" d="M448.9 380.6 L454.8 383.4 L450.5 392.4 L444.6 389.6 Z"/>
<path class="d" d="M460.1 386.1 L466.0 388.9 L461.7 397.9 L455.8 395.1 Z"/>
<path class="d" d="M471.3 391.6 L477.2 394.4 L472.9 403.4 L467.0 400.6 Z"/>
<path class="d" d="M482.5 397.1 L488.4 399.9 L484.1 408.9 L478.2 406.1 Z"/>
<path class="d" d="M493.7 402.6 L499.6 405.4 L495.3 414.4 L489.4 411.6 Z"/>
<path class="l" d="M450.0 363.5 L455.9 366.3 L452.0 374.5 L446.1 371.7 Z"/>
<path class="l" d="M461.2 368.9 L467.1 371.7 L463.2 379.9 L457.3 377.1 Z"/>
<path class="l" d="M477.5 377.0 L483.4 379.8 L479.5 388.0 L473.6 385.2 Z"/>
<path class="l" d="M488.7 382.4 L494.6 385.2 L490.7 393.4 L484.8 390.6 Z"/>
<path class="l" d="M505.5 390.5 L511.4 393.3 L507.5 401.5 L501.6 398.7 Z"/>
<path class="d" d="M374.9 353.7 L374.4 353.9 L374.0 353.7 L373.5 353.4 L373.1 352.8 L372.8 352.0 L372.5 351.0 L372.3 349.8 L372.1 348.5 L372.0 347.0 L372.0 345.5 L372.0 343.9 L372.2 342.2 L372.4 340.6 L372.6 339.1 L372.9 337.6 L373.3 336.3 L373.7 335.1 L374.2 334.1 L374.7 333.3 L375.2 332.7 L375.6 332.3 L376.1 332.1 L376.6 332.2 L377.0 332.6"/>
<path class="d" d="M380.2 358.3 L379.4 358.5 L378.8 358.3 L378.2 357.7 L377.7 356.8 L377.2 355.7 L376.9 354.2 L376.6 352.5 L376.5 350.6 L376.5 348.5 L376.5 346.3 L376.7 344.0 L377.0 341.7 L377.4 339.4 L377.9 337.2 L378.5 335.2 L379.1 333.3 L379.8 331.6 L380.6 330.2 L381.3 329.0 L382.1 328.2 L382.8 327.7 L383.5 327.5 L384.2 327.7 L384.8 328.2"/>
<path class="m" d="M382.2 359.0 L381.6 359.0 L381.0 358.6 L380.4 358.0 L380.0 357.0 L379.6 355.8 L379.3 354.3 L379.1 352.6 L379.0 350.8 L379.0 348.8 L379.1 346.6 L379.3 344.5 L379.5 342.3 L379.9 340.1 L380.4 338.0 L380.9 336.0 L381.5 334.2 L382.2 332.6 L382.8 331.2 L383.5 330.0 L384.3 329.1 L385.0 328.5 L385.7 328.2 L386.3 328.2 L386.9 328.5"/>
<path class="d" d="M387.2 359.0 L386.5 359.2 L385.9 359.0 L385.3 358.4 L384.7 357.6 L384.3 356.5 L383.9 355.0 L383.7 353.4 L383.5 351.6 L383.5 349.5 L383.6 347.4 L383.8 345.2 L384.0 343.0 L384.4 340.8 L384.9 338.7 L385.5 336.7 L386.1 334.9 L386.8 333.3 L387.5 331.9 L388.2 330.9 L389.0 330.1 L389.7 329.6 L390.4 329.4 L391.1 329.6 L391.7 330.1"/>
<path class="m" d="M391.9 359.4 L391.2 359.5 L390.6 359.3 L390.1 358.8 L389.6 358.0 L389.2 357.0 L388.8 355.7 L388.6 354.2 L388.5 352.6 L388.4 350.8 L388.5 348.8 L388.7 346.8 L388.9 344.8 L389.3 342.8 L389.7 340.9 L390.2 339.1 L390.8 337.5 L391.4 336.0 L392.1 334.8 L392.7 333.8 L393.4 333.1 L394.1 332.7 L394.7 332.5 L395.3 332.7 L395.9 333.1"/>
<path class="d" d="M376.0 332.2 C376.5 331.7 377.8 329.9 379.0 329.2 C380.2 328.5 382.0 328.0 383.5 327.8 C385.0 327.6 386.6 327.9 388.0 328.2 C389.4 328.5 390.8 329.1 392.0 329.6 C393.2 330.2 394.5 330.7 395.5 331.5 C396.5 332.3 397.2 333.2 398.0 334.5 C398.8 335.8 399.7 338.2 400.0 339.0"/>
<path class="d" d="M375.0 353.8 C375.4 354.3 376.5 356.2 377.5 357.0 C378.5 357.8 379.8 358.3 381.0 358.6 C382.2 358.9 383.8 359.0 385.0 359.0 C386.2 359.0 387.1 358.9 388.0 358.8 C388.9 358.7 390.1 358.6 390.5 358.5"/>
<path class="d" d="M366.6 328.9 L376.0 332.7"/>
<path class="d" d="M364.5 340.5 L372.2 345.5"/>
<ellipse class="d" cx="347.2" cy="333.3" rx="6.1" ry="6.5" transform="rotate(0.0 347.2 333.3)"/>
<ellipse class="d" cx="347.2" cy="333.3" rx="4.4" ry="4.8" transform="rotate(0.0 347.2 333.3)"/>
<ellipse class="d" cx="347.2" cy="333.3" rx="2.7" ry="3.0" transform="rotate(0.0 347.2 333.3)"/>
<path class="k" d="M349.0 321.5 C349.5 320.9 350.8 318.9 352.0 318.0 C353.2 317.1 354.7 316.2 356.0 316.0 C357.3 315.8 358.9 316.4 360.0 317.0 C361.1 317.6 361.9 318.5 362.7 319.4 C363.5 320.3 364.4 321.4 365.0 322.5 C365.6 323.6 366.3 325.4 366.6 326.0"/>
<path class="d" d="M340.5 328.3 C340.9 327.7 342.1 325.5 343.0 324.5 C343.9 323.5 345.0 323.0 346.0 322.5 C347.0 322.0 348.5 321.7 349.0 321.5"/>
<path class="d" d="M366.6 326.0 C366.7 327.2 367.0 330.8 367.0 333.0 C367.0 335.2 366.9 337.9 366.5 339.5 C366.1 341.1 365.1 341.8 364.5 342.5 C363.9 343.2 363.0 343.8 362.7 344.0"/>
<path class="m" d="M358.0 317.5 C358.5 318.8 360.5 321.9 361.0 325.0 C361.5 328.1 361.2 333.0 361.0 336.0 C360.8 339.0 359.8 341.8 359.5 343.0"/>
<path class="d" d="M353.5 336.5 C353.9 337.2 354.9 339.8 356.0 341.0 C357.1 342.2 359.3 343.5 360.0 344.0"/>
<path class="d" d="M340.7 337.0 C340.8 337.8 340.9 340.4 341.5 342.0 C342.1 343.6 343.6 345.8 344.0 346.5"/>
<path class="d" d="M361.8 348.0 L361.7 348.5 L361.6 349.0 L361.2 349.4 L360.7 349.7 L360.0 349.9 L359.1 350.1 L358.2 350.2 L357.1 350.2 L356.0 350.1 L354.9 350.0 L353.7 349.7 L352.5 349.4 L351.4 349.0 L350.3 348.6 L349.3 348.1 L348.4 347.5 L347.6 347.0 L347.0 346.4 L346.6 345.8 L346.3 345.3 L346.2 344.8 L346.3 344.3 L346.6 343.9 L347.0 343.5"/>
<path class="k" d="M362.0 350.7 L362.0 351.3 L361.8 351.8 L361.5 352.2 L360.9 352.5 L360.2 352.8 L359.3 353.0 L358.3 353.1 L357.2 353.1 L356.1 353.0 L354.9 352.9 L353.6 352.6 L352.4 352.3 L351.2 351.9 L350.1 351.4 L349.1 350.9 L348.2 350.3 L347.4 349.8 L346.8 349.2 L346.3 348.6 L346.0 348.0 L345.9 347.4 L346.0 346.9 L346.3 346.5 L346.8 346.1"/>
<path class="d" d="M362.1 353.3 L362.0 353.8 L361.9 354.3 L361.5 354.7 L361.0 355.0 L360.3 355.2 L359.4 355.4 L358.5 355.5 L357.4 355.5 L356.3 355.4 L355.2 355.3 L354.0 355.0 L352.8 354.7 L351.7 354.3 L350.6 353.9 L349.6 353.4 L348.7 352.8 L347.9 352.3 L347.3 351.7 L346.9 351.1 L346.6 350.6 L346.5 350.1 L346.6 349.6 L346.9 349.2 L347.3 348.8"/>
<path class="d" d="M361.0 354.8 L361.0 355.2 L360.8 355.6 L360.5 356.0 L360.1 356.3 L359.5 356.5 L358.8 356.7 L358.0 356.8 L357.2 356.8 L356.2 356.7 L355.3 356.6 L354.3 356.4 L353.3 356.1 L352.4 355.8 L351.5 355.4 L350.7 355.0 L349.9 354.6 L349.3 354.1 L348.8 353.6 L348.5 353.1 L348.3 352.7 L348.2 352.2 L348.3 351.8 L348.5 351.4 L348.9 351.1"/>
<path class="d" d="M346.0 347.5 L346.3 352.5"/>
<path class="d" d="M362.0 348.2 L362.0 353.2"/>
<path class="d" d="M578.0 413.5 L587.5 408.5 L607.5 418.0"/>
<path class="d" d="M578.0 413.5 L549.0 470.5"/>
<path class="d" d="M582.0 412.0 L553.0 473.0"/>
<path class="m" d="M585.0 413.0 L556.0 474.0"/>
<path class="d" d="M603.0 416.0 L582.0 465.0"/>
<path class="d" d="M607.5 418.0 L586.5 467.0"/>
<path class="d" d="M549.0 470.5 L556.0 474.0 L562.0 476.0"/>
<path class="d" d="M582.0 412.0 L603.0 420.0"/>
<path class="d" d="M586.0 406.0 L590.0 405.0 L591.0 410.0"/>
<path class="d" d="M604.0 414.0 L608.0 413.5 L609.0 419.0"/>
<path class="d" d="M574.0 441.0 L581.0 427.0 L599.0 434.0 L590.0 451.0 Z"/>
<ellipse class="d" cx="583.0" cy="440.0" rx="5.0" ry="4.6" transform="rotate(0.0 583.0 440.0)"/>
<path class="d" d="M565.0 450.0 L575.0 454.0 L571.0 462.0 L562.0 458.0 Z"/>
<path class="m" d="M575.0 454.0 L584.0 452.0"/>
<path class="m" d="M571.0 462.0 L580.0 462.0"/>
<path class="m" d="M568.0 466.0 L582.0 470.0 L580.0 478.0 L566.0 475.0 Z"/>
<path class="d" d="M606.0 430.0 L632.0 440.5 L622.0 469.5 L596.0 459.0 Z"/>
<path class="d" d="M605.0 432.9 L631.0 443.4"/>
<path class="d" d="M604.0 435.8 L630.0 446.3"/>
<path class="d" d="M603.0 438.7 L629.0 449.2"/>
<path class="d" d="M602.0 441.6 L628.0 452.1"/>
<path class="d" d="M601.0 444.5 L627.0 455.0"/>
<path class="d" d="M600.0 447.4 L626.0 457.9"/>
<path class="d" d="M599.0 450.3 L625.0 460.8"/>
<path class="d" d="M598.0 453.2 L624.0 463.7"/>
<path class="d" d="M597.0 456.1 L623.0 466.6"/>
<path class="d" d="M632.0 440.5 L634.5 442.0 L625.0 471.0 L622.0 469.5"/>
<path class="m" d="M610.0 426.0 L633.0 436.5 L632.0 440.5"/>
<path class="m" d="M590.0 460.0 L598.0 470.0 L612.0 476.0"/>
<path class="m" d="M586.0 467.0 L592.0 476.0 L604.0 484.0"/>
<path class="d" d="M594.0 458.0 L600.0 468.0 L598.0 474.0"/>
<path class="m" d="M600.0 413.0 L579.0 462.0"/>
<path class="d" d="M588.0 467.5 L598.0 472.0 L601.0 466.0"/>
<path class="m" d="M592.0 462.0 L602.0 466.5"/>
<path class="d" d="M586.5 467.0 L590.0 478.0 L600.0 484.0 L612.0 487.0"/>
<path class="m" d="M600.0 461.0 L606.0 470.0 L604.0 478.0"/>
<path class="d" d="M596.0 459.0 L622.0 469.5"/>
<path class="d" d="M604.0 470.0 L614.0 474.0 L616.0 468.0"/>
<path class="m" d="M608.0 476.0 L618.0 480.0"/>
<path class="m" d="M575.0 454.0 L577.0 449.0 L585.0 452.0"/>
<path class="m" d="M562.0 458.0 L560.0 463.0 L569.0 467.0"/>
<path class="d" d="M556.0 474.0 L566.0 478.0 L580.0 480.0 L590.0 484.0"/>
<path class="m" d="M626.0 441.0 L636.0 445.0"/>
<path class="m" d="M627.2 446.6 L636.2 450.4"/>
<path class="m" d="M628.4 452.2 L636.4 455.8"/>
<path class="m" d="M629.6 457.8 L636.6 461.2"/>
<path class="m" d="M630.8 463.4 L636.8 466.6"/>
<path class="m" d="M634.5 442.0 L637.0 443.5 L628.0 471.5 L625.0 471.0"/>
</svg>
</body></html>
